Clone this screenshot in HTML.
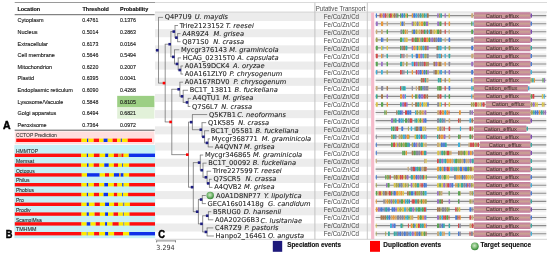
<!DOCTYPE html><html><head><meta charset="utf-8"><style>html,body{margin:0;padding:0;background:#fff;overflow:hidden}svg{display:block}</style></head><body>
<svg width="550" height="254" viewBox="0 0 550 254">
<line x1="14.70" y1="2.50" x2="155.00" y2="2.50" stroke="#9a9a9a" stroke-width="1.2"/>
<text x="17.40" y="10.50" font-family="'Liberation Sans', Arial, sans-serif" font-size="6.1" font-weight="bold" fill="#111" textLength="22.80" lengthAdjust="spacingAndGlyphs" stroke="#111" stroke-width="0.15">Location</text>
<text x="82.50" y="10.50" font-family="'Liberation Sans', Arial, sans-serif" font-size="6.1" font-weight="bold" fill="#111" textLength="26.30" lengthAdjust="spacingAndGlyphs" stroke="#111" stroke-width="0.15">Threshold</text>
<text x="120.00" y="10.50" font-family="'Liberation Sans', Arial, sans-serif" font-size="6.1" font-weight="bold" fill="#111" textLength="28.20" lengthAdjust="spacingAndGlyphs" stroke="#111" stroke-width="0.15">Probability</text>
<line x1="14.70" y1="14.70" x2="154.60" y2="14.70" stroke="#555" stroke-width="0.9"/>
<text x="17.60" y="22.30" font-family="'Liberation Sans', Arial, sans-serif" font-size="6.1" fill="#1a1a1a" textLength="25.94" lengthAdjust="spacingAndGlyphs" stroke="#1a1a1a" stroke-width="0.14">Cytoplasm</text>
<text x="82.30" y="22.30" font-family="'Liberation Sans', Arial, sans-serif" font-size="6.1" fill="#1a1a1a" textLength="16.00" lengthAdjust="spacingAndGlyphs" stroke="#1a1a1a" stroke-width="0.14">0.4761</text>
<text x="119.90" y="22.30" font-family="'Liberation Sans', Arial, sans-serif" font-size="6.1" fill="#1a1a1a" textLength="16.00" lengthAdjust="spacingAndGlyphs" stroke="#1a1a1a" stroke-width="0.14">0.1376</text>
<text x="17.60" y="33.90" font-family="'Liberation Sans', Arial, sans-serif" font-size="6.1" fill="#1a1a1a" textLength="19.84" lengthAdjust="spacingAndGlyphs" stroke="#1a1a1a" stroke-width="0.14">Nucleus</text>
<text x="82.30" y="33.90" font-family="'Liberation Sans', Arial, sans-serif" font-size="6.1" fill="#1a1a1a" textLength="16.00" lengthAdjust="spacingAndGlyphs" stroke="#1a1a1a" stroke-width="0.14">0.5014</text>
<text x="119.90" y="33.90" font-family="'Liberation Sans', Arial, sans-serif" font-size="6.1" fill="#1a1a1a" textLength="16.00" lengthAdjust="spacingAndGlyphs" stroke="#1a1a1a" stroke-width="0.14">0.2863</text>
<text x="17.60" y="45.50" font-family="'Liberation Sans', Arial, sans-serif" font-size="6.1" fill="#1a1a1a" textLength="30.20" lengthAdjust="spacingAndGlyphs" stroke="#1a1a1a" stroke-width="0.14">Extracellular</text>
<text x="82.30" y="45.50" font-family="'Liberation Sans', Arial, sans-serif" font-size="6.1" fill="#1a1a1a" textLength="16.00" lengthAdjust="spacingAndGlyphs" stroke="#1a1a1a" stroke-width="0.14">0.6173</text>
<text x="119.90" y="45.50" font-family="'Liberation Sans', Arial, sans-serif" font-size="6.1" fill="#1a1a1a" textLength="16.00" lengthAdjust="spacingAndGlyphs" stroke="#1a1a1a" stroke-width="0.14">0.0164</text>
<text x="17.60" y="57.10" font-family="'Liberation Sans', Arial, sans-serif" font-size="6.1" fill="#1a1a1a" textLength="37.23" lengthAdjust="spacingAndGlyphs" stroke="#1a1a1a" stroke-width="0.14">Cell membrane</text>
<text x="82.30" y="57.10" font-family="'Liberation Sans', Arial, sans-serif" font-size="6.1" fill="#1a1a1a" textLength="16.00" lengthAdjust="spacingAndGlyphs" stroke="#1a1a1a" stroke-width="0.14">0.5646</text>
<text x="119.90" y="57.10" font-family="'Liberation Sans', Arial, sans-serif" font-size="6.1" fill="#1a1a1a" textLength="16.00" lengthAdjust="spacingAndGlyphs" stroke="#1a1a1a" stroke-width="0.14">0.5494</text>
<text x="17.60" y="68.70" font-family="'Liberation Sans', Arial, sans-serif" font-size="6.1" fill="#1a1a1a" textLength="34.48" lengthAdjust="spacingAndGlyphs" stroke="#1a1a1a" stroke-width="0.14">Mitochondrion</text>
<text x="82.30" y="68.70" font-family="'Liberation Sans', Arial, sans-serif" font-size="6.1" fill="#1a1a1a" textLength="16.00" lengthAdjust="spacingAndGlyphs" stroke="#1a1a1a" stroke-width="0.14">0.6220</text>
<text x="119.90" y="68.70" font-family="'Liberation Sans', Arial, sans-serif" font-size="6.1" fill="#1a1a1a" textLength="16.00" lengthAdjust="spacingAndGlyphs" stroke="#1a1a1a" stroke-width="0.14">0.2007</text>
<text x="17.60" y="80.30" font-family="'Liberation Sans', Arial, sans-serif" font-size="6.1" fill="#1a1a1a" textLength="16.48" lengthAdjust="spacingAndGlyphs" stroke="#1a1a1a" stroke-width="0.14">Plastid</text>
<text x="82.30" y="80.30" font-family="'Liberation Sans', Arial, sans-serif" font-size="6.1" fill="#1a1a1a" textLength="16.00" lengthAdjust="spacingAndGlyphs" stroke="#1a1a1a" stroke-width="0.14">0.6395</text>
<text x="119.90" y="80.30" font-family="'Liberation Sans', Arial, sans-serif" font-size="6.1" fill="#1a1a1a" textLength="16.00" lengthAdjust="spacingAndGlyphs" stroke="#1a1a1a" stroke-width="0.14">0.0041</text>
<text x="17.60" y="91.90" font-family="'Liberation Sans', Arial, sans-serif" font-size="6.1" fill="#1a1a1a" textLength="55.22" lengthAdjust="spacingAndGlyphs" stroke="#1a1a1a" stroke-width="0.14">Endoplasmic reticulum</text>
<text x="82.30" y="91.90" font-family="'Liberation Sans', Arial, sans-serif" font-size="6.1" fill="#1a1a1a" textLength="16.00" lengthAdjust="spacingAndGlyphs" stroke="#1a1a1a" stroke-width="0.14">0.6090</text>
<text x="119.90" y="91.90" font-family="'Liberation Sans', Arial, sans-serif" font-size="6.1" fill="#1a1a1a" textLength="16.00" lengthAdjust="spacingAndGlyphs" stroke="#1a1a1a" stroke-width="0.14">0.4268</text>
<rect x="117.20" y="95.85" width="37.20" height="11.50" fill="#9ccf84"/>
<text x="17.60" y="103.50" font-family="'Liberation Sans', Arial, sans-serif" font-size="6.1" fill="#1a1a1a" textLength="45.76" lengthAdjust="spacingAndGlyphs" stroke="#1a1a1a" stroke-width="0.14">Lysosome/Vacuole</text>
<text x="82.30" y="103.50" font-family="'Liberation Sans', Arial, sans-serif" font-size="6.1" fill="#1a1a1a" textLength="16.00" lengthAdjust="spacingAndGlyphs" stroke="#1a1a1a" stroke-width="0.14">0.5848</text>
<text x="119.90" y="103.50" font-family="'Liberation Sans', Arial, sans-serif" font-size="6.1" fill="#1a1a1a" textLength="16.00" lengthAdjust="spacingAndGlyphs" stroke="#1a1a1a" stroke-width="0.14">0.8105</text>
<rect x="117.20" y="107.45" width="37.20" height="11.20" fill="#e2f1d9"/>
<text x="17.60" y="115.10" font-family="'Liberation Sans', Arial, sans-serif" font-size="6.1" fill="#1a1a1a" textLength="38.75" lengthAdjust="spacingAndGlyphs" stroke="#1a1a1a" stroke-width="0.14">Golgi apparatus</text>
<text x="82.30" y="115.10" font-family="'Liberation Sans', Arial, sans-serif" font-size="6.1" fill="#1a1a1a" textLength="16.00" lengthAdjust="spacingAndGlyphs" stroke="#1a1a1a" stroke-width="0.14">0.6494</text>
<text x="119.90" y="115.10" font-family="'Liberation Sans', Arial, sans-serif" font-size="6.1" fill="#1a1a1a" textLength="16.00" lengthAdjust="spacingAndGlyphs" stroke="#1a1a1a" stroke-width="0.14">0.6821</text>
<text x="17.60" y="126.70" font-family="'Liberation Sans', Arial, sans-serif" font-size="6.1" fill="#1a1a1a" textLength="28.98" lengthAdjust="spacingAndGlyphs" stroke="#1a1a1a" stroke-width="0.14">Peroxisome</text>
<text x="82.30" y="126.70" font-family="'Liberation Sans', Arial, sans-serif" font-size="6.1" fill="#1a1a1a" textLength="16.00" lengthAdjust="spacingAndGlyphs" stroke="#1a1a1a" stroke-width="0.14">0.7364</text>
<text x="119.90" y="126.70" font-family="'Liberation Sans', Arial, sans-serif" font-size="6.1" fill="#1a1a1a" textLength="16.00" lengthAdjust="spacingAndGlyphs" stroke="#1a1a1a" stroke-width="0.14">0.0972</text>
<line x1="14.70" y1="130.20" x2="154.60" y2="130.20" stroke="#444" stroke-width="0.9"/>
<text x="3.10" y="128.50" font-family="'Liberation Sans', Arial, sans-serif" font-size="10.4" font-weight="bold" fill="#000" textLength="7.60" lengthAdjust="spacingAndGlyphs" stroke="#000" stroke-width="0.45">A</text>
<rect x="14.80" y="131.40" width="139.60" height="12.90" fill="#ffdede"/>
<rect x="14.40" y="145.00" width="140.80" height="93.20" fill="#c6f1f7"/>
<text x="15.90" y="137.40" font-family="'Liberation Sans', Arial, sans-serif" font-size="5.5" fill="#3a3a3a" textLength="40.90" lengthAdjust="spacingAndGlyphs" stroke="#3a3a3a" stroke-width="0.1">CCTOP Prediction</text>
<rect x="16.20" y="138.60" width="65.30" height="3.40" fill="#ff1010"/>
<rect x="81.50" y="138.60" width="5.50" height="3.40" fill="#ffe800"/>
<rect x="87.00" y="138.60" width="1.40" height="3.40" fill="#1030e8"/>
<rect x="88.40" y="138.60" width="5.30" height="3.40" fill="#ffe800"/>
<rect x="93.70" y="138.60" width="5.50" height="3.40" fill="#ff1010"/>
<rect x="99.20" y="138.60" width="4.40" height="3.40" fill="#ffe800"/>
<rect x="103.60" y="138.60" width="4.10" height="3.40" fill="#1030e8"/>
<rect x="107.70" y="138.60" width="4.90" height="3.40" fill="#ffe800"/>
<rect x="112.60" y="138.60" width="4.50" height="3.40" fill="#ff1010"/>
<rect x="117.10" y="138.60" width="3.70" height="3.40" fill="#ffe800"/>
<rect x="120.80" y="138.60" width="1.10" height="3.40" fill="#1030e8"/>
<rect x="121.90" y="138.60" width="5.80" height="3.40" fill="#ffe800"/>
<rect x="127.70" y="138.60" width="24.30" height="3.40" fill="#ff1010"/>
<text x="15.90" y="152.90" font-family="'Liberation Sans', Arial, sans-serif" font-size="5.6" fill="#2a2a2a" textLength="22.20" lengthAdjust="spacingAndGlyphs" stroke="#2a2a2a" stroke-width="0.1">HMMTOP</text>
<rect x="14.80" y="153.60" width="66.40" height="3.40" fill="#ff1010"/>
<rect x="81.20" y="153.60" width="5.60" height="3.40" fill="#ffe800"/>
<rect x="86.80" y="153.60" width="1.30" height="3.40" fill="#1030e8"/>
<rect x="88.10" y="153.60" width="5.80" height="3.40" fill="#ffe800"/>
<rect x="93.90" y="153.60" width="5.80" height="3.40" fill="#ff1010"/>
<rect x="99.70" y="153.60" width="5.50" height="3.40" fill="#ffe800"/>
<rect x="105.20" y="153.60" width="3.20" height="3.40" fill="#1030e8"/>
<rect x="108.40" y="153.60" width="5.50" height="3.40" fill="#ffe800"/>
<rect x="113.90" y="153.60" width="4.20" height="3.40" fill="#ff1010"/>
<rect x="118.10" y="153.60" width="3.40" height="3.40" fill="#f0a020"/>
<rect x="121.50" y="153.60" width="2.10" height="3.40" fill="#ff1010"/>
<rect x="123.60" y="153.60" width="5.20" height="3.40" fill="#ffe800"/>
<rect x="128.80" y="153.60" width="26.20" height="3.40" fill="#1030e8"/>
<text x="15.90" y="162.70" font-family="'Liberation Sans', Arial, sans-serif" font-size="5.6" fill="#2a2a2a" textLength="18.20" lengthAdjust="spacingAndGlyphs" stroke="#2a2a2a" stroke-width="0.1">Memsat</text>
<rect x="14.80" y="163.40" width="66.40" height="3.40" fill="#ff1010"/>
<rect x="81.20" y="163.40" width="5.80" height="3.40" fill="#ffe800"/>
<rect x="87.00" y="163.40" width="1.70" height="3.40" fill="#1030e8"/>
<rect x="88.70" y="163.40" width="5.00" height="3.40" fill="#ffe800"/>
<rect x="93.70" y="163.40" width="5.70" height="3.40" fill="#ff1010"/>
<rect x="99.40" y="163.40" width="4.90" height="3.40" fill="#ffe800"/>
<rect x="104.30" y="163.40" width="4.50" height="3.40" fill="#1030e8"/>
<rect x="108.80" y="163.40" width="5.10" height="3.40" fill="#ffe800"/>
<rect x="113.90" y="163.40" width="4.10" height="3.40" fill="#ff1010"/>
<rect x="118.00" y="163.40" width="4.20" height="3.40" fill="#ffe800"/>
<rect x="122.20" y="163.40" width="1.00" height="3.40" fill="#1030e8"/>
<rect x="123.20" y="163.40" width="5.90" height="3.40" fill="#ffe800"/>
<rect x="129.10" y="163.40" width="25.90" height="3.40" fill="#ff1010"/>
<text x="15.90" y="172.50" font-family="'Liberation Sans', Arial, sans-serif" font-size="5.6" fill="#2a2a2a" textLength="18.80" lengthAdjust="spacingAndGlyphs" stroke="#2a2a2a" stroke-width="0.1">Octopus</text>
<rect x="14.80" y="173.20" width="67.00" height="3.40" fill="#ff1010"/>
<rect x="81.80" y="173.20" width="5.20" height="3.40" fill="#ffe800"/>
<rect x="87.00" y="173.20" width="12.70" height="3.40" fill="#1030e8"/>
<rect x="99.70" y="173.20" width="5.30" height="3.40" fill="#ffe800"/>
<rect x="105.00" y="173.20" width="4.10" height="3.40" fill="#ff1010"/>
<rect x="109.10" y="173.20" width="4.80" height="3.40" fill="#ffe800"/>
<rect x="113.90" y="173.20" width="5.10" height="3.40" fill="#1030e8"/>
<rect x="119.00" y="173.20" width="1.80" height="3.40" fill="#f0a020"/>
<rect x="120.80" y="173.20" width="2.80" height="3.40" fill="#1030e8"/>
<rect x="123.60" y="173.20" width="5.50" height="3.40" fill="#ffe800"/>
<rect x="129.10" y="173.20" width="25.90" height="3.40" fill="#ff1010"/>
<text x="15.90" y="182.30" font-family="'Liberation Sans', Arial, sans-serif" font-size="5.6" fill="#2a2a2a" textLength="13.70" lengthAdjust="spacingAndGlyphs" stroke="#2a2a2a" stroke-width="0.1">Philus</text>
<rect x="14.80" y="183.00" width="66.70" height="3.40" fill="#ff1010"/>
<rect x="81.50" y="183.00" width="5.30" height="3.40" fill="#ffe800"/>
<rect x="86.80" y="183.00" width="1.60" height="3.40" fill="#1030e8"/>
<rect x="88.40" y="183.00" width="5.50" height="3.40" fill="#ffe800"/>
<rect x="93.90" y="183.00" width="5.30" height="3.40" fill="#ff1010"/>
<rect x="99.20" y="183.00" width="5.10" height="3.40" fill="#ffe800"/>
<rect x="104.30" y="183.00" width="3.70" height="3.40" fill="#1030e8"/>
<rect x="108.00" y="183.00" width="5.90" height="3.40" fill="#ffe800"/>
<rect x="113.90" y="183.00" width="3.50" height="3.40" fill="#ff1010"/>
<rect x="117.40" y="183.00" width="4.80" height="3.40" fill="#ffe800"/>
<rect x="122.20" y="183.00" width="1.40" height="3.40" fill="#1030e8"/>
<rect x="123.60" y="183.00" width="5.50" height="3.40" fill="#ffe800"/>
<rect x="129.10" y="183.00" width="25.90" height="3.40" fill="#ff1010"/>
<text x="15.90" y="192.10" font-family="'Liberation Sans', Arial, sans-serif" font-size="5.6" fill="#2a2a2a" textLength="18.10" lengthAdjust="spacingAndGlyphs" stroke="#2a2a2a" stroke-width="0.1">Phobius</text>
<rect x="14.80" y="192.80" width="66.70" height="3.40" fill="#ff1010"/>
<rect x="81.50" y="192.80" width="5.30" height="3.40" fill="#ffe800"/>
<rect x="86.80" y="192.80" width="1.40" height="3.40" fill="#1030e8"/>
<rect x="88.20" y="192.80" width="5.70" height="3.40" fill="#ffe800"/>
<rect x="93.90" y="192.80" width="5.30" height="3.40" fill="#ff1010"/>
<rect x="99.20" y="192.80" width="4.40" height="3.40" fill="#ffe800"/>
<rect x="103.60" y="192.80" width="4.40" height="3.40" fill="#1030e8"/>
<rect x="108.00" y="192.80" width="5.90" height="3.40" fill="#ffe800"/>
<rect x="113.90" y="192.80" width="3.50" height="3.40" fill="#ff1010"/>
<rect x="117.40" y="192.80" width="4.80" height="3.40" fill="#ffe800"/>
<rect x="122.20" y="192.80" width="1.00" height="3.40" fill="#1030e8"/>
<rect x="123.20" y="192.80" width="4.90" height="3.40" fill="#ffe800"/>
<rect x="128.10" y="192.80" width="26.90" height="3.40" fill="#ff1010"/>
<text x="15.90" y="201.90" font-family="'Liberation Sans', Arial, sans-serif" font-size="5.6" fill="#2a2a2a" textLength="7.90" lengthAdjust="spacingAndGlyphs" stroke="#2a2a2a" stroke-width="0.1">Pro</text>
<rect x="14.80" y="202.60" width="66.70" height="3.40" fill="#ff1010"/>
<rect x="81.50" y="202.60" width="5.20" height="3.40" fill="#ffe800"/>
<rect x="86.70" y="202.60" width="2.20" height="3.40" fill="#1030e8"/>
<rect x="88.90" y="202.60" width="5.70" height="3.40" fill="#ffe800"/>
<rect x="94.60" y="202.60" width="5.30" height="3.40" fill="#ff1010"/>
<rect x="99.90" y="202.60" width="5.20" height="3.40" fill="#ffe800"/>
<rect x="105.10" y="202.60" width="4.00" height="3.40" fill="#1030e8"/>
<rect x="109.10" y="202.60" width="5.00" height="3.40" fill="#ffe800"/>
<rect x="114.10" y="202.60" width="4.10" height="3.40" fill="#ff1010"/>
<rect x="118.20" y="202.60" width="4.70" height="3.40" fill="#ffe800"/>
<rect x="122.90" y="202.60" width="1.60" height="3.40" fill="#7070a0"/>
<rect x="124.50" y="202.60" width="5.40" height="3.40" fill="#ffe800"/>
<rect x="129.90" y="202.60" width="25.10" height="3.40" fill="#ff1010"/>
<text x="15.90" y="211.70" font-family="'Liberation Sans', Arial, sans-serif" font-size="5.6" fill="#2a2a2a" textLength="14.70" lengthAdjust="spacingAndGlyphs" stroke="#2a2a2a" stroke-width="0.1">Prodiv</text>
<rect x="14.80" y="212.40" width="66.70" height="3.40" fill="#ff1010"/>
<rect x="81.50" y="212.40" width="5.20" height="3.40" fill="#ffe800"/>
<rect x="86.70" y="212.40" width="2.20" height="3.40" fill="#1030e8"/>
<rect x="88.90" y="212.40" width="5.70" height="3.40" fill="#ffe800"/>
<rect x="94.60" y="212.40" width="5.30" height="3.40" fill="#ff1010"/>
<rect x="99.90" y="212.40" width="5.20" height="3.40" fill="#ffe800"/>
<rect x="105.10" y="212.40" width="2.90" height="3.40" fill="#1030e8"/>
<rect x="108.00" y="212.40" width="5.50" height="3.40" fill="#ffe800"/>
<rect x="113.50" y="212.40" width="4.70" height="3.40" fill="#ff1010"/>
<rect x="118.20" y="212.40" width="4.70" height="3.40" fill="#ffe800"/>
<rect x="122.90" y="212.40" width="1.10" height="3.40" fill="#7070a0"/>
<rect x="124.00" y="212.40" width="5.50" height="3.40" fill="#ffe800"/>
<rect x="129.50" y="212.40" width="25.50" height="3.40" fill="#ff1010"/>
<text x="15.90" y="221.50" font-family="'Liberation Sans', Arial, sans-serif" font-size="5.6" fill="#2a2a2a" textLength="26.00" lengthAdjust="spacingAndGlyphs" stroke="#2a2a2a" stroke-width="0.1">ScampiMsa</text>
<rect x="14.80" y="222.20" width="66.70" height="3.40" fill="#ff1010"/>
<rect x="81.50" y="222.20" width="5.20" height="3.40" fill="#ffe800"/>
<rect x="86.70" y="222.20" width="3.80" height="3.40" fill="#1030e8"/>
<rect x="90.50" y="222.20" width="5.20" height="3.40" fill="#ffe800"/>
<rect x="95.70" y="222.20" width="4.20" height="3.40" fill="#ff1010"/>
<rect x="99.90" y="222.20" width="5.20" height="3.40" fill="#ffe800"/>
<rect x="105.10" y="222.20" width="2.10" height="3.40" fill="#1030e8"/>
<rect x="107.20" y="222.20" width="5.30" height="3.40" fill="#ffe800"/>
<rect x="112.50" y="222.20" width="6.30" height="3.40" fill="#ff1010"/>
<rect x="118.80" y="222.20" width="4.50" height="3.40" fill="#ffe800"/>
<rect x="123.30" y="222.20" width="1.10" height="3.40" fill="#7a7a8a"/>
<rect x="124.40" y="222.20" width="5.10" height="3.40" fill="#ffe800"/>
<rect x="129.50" y="222.20" width="25.50" height="3.40" fill="#ff1010"/>
<text x="15.90" y="231.30" font-family="'Liberation Sans', Arial, sans-serif" font-size="5.6" fill="#2a2a2a" textLength="20.50" lengthAdjust="spacingAndGlyphs" stroke="#2a2a2a" stroke-width="0.1">TMHMM</text>
<rect x="14.80" y="232.00" width="66.70" height="3.40" fill="#ff1010"/>
<rect x="81.50" y="232.00" width="5.20" height="3.40" fill="#ffe800"/>
<rect x="86.70" y="232.00" width="1.10" height="3.40" fill="#8080a0"/>
<rect x="87.80" y="232.00" width="6.30" height="3.40" fill="#ffe800"/>
<rect x="94.10" y="232.00" width="5.20" height="3.40" fill="#ff1010"/>
<rect x="99.30" y="232.00" width="5.80" height="3.40" fill="#ffe800"/>
<rect x="105.10" y="232.00" width="3.20" height="3.40" fill="#1030e8"/>
<rect x="108.30" y="232.00" width="5.80" height="3.40" fill="#ffe800"/>
<rect x="114.10" y="232.00" width="8.90" height="3.40" fill="#ff1010"/>
<rect x="123.00" y="232.00" width="6.20" height="3.40" fill="#ffe800"/>
<rect x="129.20" y="232.00" width="25.80" height="3.40" fill="#1030e8"/>
<text x="5.80" y="237.90" font-family="'Liberation Sans', Arial, sans-serif" font-size="10.4" font-weight="bold" fill="#000" textLength="6.70" lengthAdjust="spacingAndGlyphs" stroke="#000" stroke-width="0.45">B</text>
<rect x="155.00" y="12.30" width="216.00" height="8.73" fill="#ececec"/>
<rect x="155.00" y="29.16" width="216.00" height="8.06" fill="#ececec"/>
<rect x="155.00" y="45.35" width="216.00" height="8.06" fill="#ececec"/>
<rect x="155.00" y="61.55" width="216.00" height="8.06" fill="#ececec"/>
<rect x="155.00" y="77.74" width="216.00" height="8.06" fill="#ececec"/>
<rect x="155.00" y="93.93" width="216.00" height="8.06" fill="#ececec"/>
<rect x="155.00" y="110.12" width="216.00" height="8.06" fill="#ececec"/>
<rect x="155.00" y="126.31" width="216.00" height="8.06" fill="#ececec"/>
<rect x="155.00" y="142.51" width="216.00" height="8.06" fill="#ececec"/>
<rect x="155.00" y="158.70" width="216.00" height="8.06" fill="#ececec"/>
<rect x="155.00" y="174.89" width="216.00" height="8.06" fill="#ececec"/>
<rect x="155.00" y="191.08" width="216.00" height="8.06" fill="#ececec"/>
<rect x="155.00" y="207.27" width="216.00" height="8.06" fill="#ececec"/>
<rect x="155.00" y="223.47" width="216.00" height="8.06" fill="#ececec"/>
<line x1="155.00" y1="2.50" x2="547.00" y2="2.50" stroke="#d6d6d6" stroke-width="0.9"/>
<line x1="155.00" y1="12.10" x2="547.00" y2="12.10" stroke="#c8c8c8" stroke-width="0.8"/>
<line x1="155.00" y1="239.30" x2="547.00" y2="239.30" stroke="#c8c8c8" stroke-width="0.8"/>
<line x1="314.90" y1="2.50" x2="314.90" y2="239.30" stroke="#c2c2c2" stroke-width="1.0"/>
<line x1="367.30" y1="2.50" x2="367.30" y2="239.30" stroke="#c8c8c8" stroke-width="1.0"/>
<text x="315.70" y="10.80" font-family="'Liberation Sans', Arial, sans-serif" font-size="6.7" fill="#4a4a4a" textLength="49.70" lengthAdjust="spacingAndGlyphs">Putative Transport</text>
<text x="341.40" y="19.25" font-family="'Liberation Sans', Arial, sans-serif" font-size="6.6" text-anchor="middle" fill="#444" textLength="35.20" lengthAdjust="spacingAndGlyphs">Fe/Co/Zn/Cd</text>
<text x="341.40" y="27.27" font-family="'Liberation Sans', Arial, sans-serif" font-size="6.6" text-anchor="middle" fill="#444" textLength="35.20" lengthAdjust="spacingAndGlyphs">Fe/Co/Zn/Cd</text>
<text x="341.40" y="35.29" font-family="'Liberation Sans', Arial, sans-serif" font-size="6.6" text-anchor="middle" fill="#444" textLength="35.20" lengthAdjust="spacingAndGlyphs">Fe/Co/Zn/Cd</text>
<text x="341.40" y="43.31" font-family="'Liberation Sans', Arial, sans-serif" font-size="6.6" text-anchor="middle" fill="#444" textLength="35.20" lengthAdjust="spacingAndGlyphs">Fe/Co/Zn/Cd</text>
<text x="341.40" y="51.33" font-family="'Liberation Sans', Arial, sans-serif" font-size="6.6" text-anchor="middle" fill="#444" textLength="35.20" lengthAdjust="spacingAndGlyphs">Fe/Co/Zn/Cd</text>
<text x="341.40" y="59.35" font-family="'Liberation Sans', Arial, sans-serif" font-size="6.6" text-anchor="middle" fill="#444" textLength="35.20" lengthAdjust="spacingAndGlyphs">Fe/Co/Zn/Cd</text>
<text x="341.40" y="67.37" font-family="'Liberation Sans', Arial, sans-serif" font-size="6.6" text-anchor="middle" fill="#444" textLength="35.20" lengthAdjust="spacingAndGlyphs">Fe/Co/Zn/Cd</text>
<text x="341.40" y="75.39" font-family="'Liberation Sans', Arial, sans-serif" font-size="6.6" text-anchor="middle" fill="#444" textLength="35.20" lengthAdjust="spacingAndGlyphs">Fe/Co/Zn/Cd</text>
<text x="341.40" y="83.41" font-family="'Liberation Sans', Arial, sans-serif" font-size="6.6" text-anchor="middle" fill="#444" textLength="35.20" lengthAdjust="spacingAndGlyphs">Fe/Co/Zn/Cd</text>
<text x="341.40" y="91.43" font-family="'Liberation Sans', Arial, sans-serif" font-size="6.6" text-anchor="middle" fill="#444" textLength="35.20" lengthAdjust="spacingAndGlyphs">Fe/Co/Zn/Cd</text>
<text x="341.40" y="99.45" font-family="'Liberation Sans', Arial, sans-serif" font-size="6.6" text-anchor="middle" fill="#444" textLength="35.20" lengthAdjust="spacingAndGlyphs">Fe/Co/Zn/Cd</text>
<text x="341.40" y="107.47" font-family="'Liberation Sans', Arial, sans-serif" font-size="6.6" text-anchor="middle" fill="#444" textLength="35.20" lengthAdjust="spacingAndGlyphs">Fe/Co/Zn/Cd</text>
<text x="341.40" y="115.49" font-family="'Liberation Sans', Arial, sans-serif" font-size="6.6" text-anchor="middle" fill="#444" textLength="35.20" lengthAdjust="spacingAndGlyphs">Fe/Co/Zn/Cd</text>
<text x="341.40" y="123.51" font-family="'Liberation Sans', Arial, sans-serif" font-size="6.6" text-anchor="middle" fill="#444" textLength="35.20" lengthAdjust="spacingAndGlyphs">Fe/Co/Zn/Cd</text>
<text x="341.40" y="131.53" font-family="'Liberation Sans', Arial, sans-serif" font-size="6.6" text-anchor="middle" fill="#444" textLength="35.20" lengthAdjust="spacingAndGlyphs">Fe/Co/Zn/Cd</text>
<text x="341.40" y="139.55" font-family="'Liberation Sans', Arial, sans-serif" font-size="6.6" text-anchor="middle" fill="#444" textLength="35.20" lengthAdjust="spacingAndGlyphs">Fe/Co/Zn/Cd</text>
<text x="341.40" y="147.57" font-family="'Liberation Sans', Arial, sans-serif" font-size="6.6" text-anchor="middle" fill="#444" textLength="35.20" lengthAdjust="spacingAndGlyphs">Fe/Co/Zn/Cd</text>
<text x="341.40" y="155.59" font-family="'Liberation Sans', Arial, sans-serif" font-size="6.6" text-anchor="middle" fill="#444" textLength="35.20" lengthAdjust="spacingAndGlyphs">Fe/Co/Zn/Cd</text>
<text x="341.40" y="163.61" font-family="'Liberation Sans', Arial, sans-serif" font-size="6.6" text-anchor="middle" fill="#444" textLength="35.20" lengthAdjust="spacingAndGlyphs">Fe/Co/Zn/Cd</text>
<text x="341.40" y="171.63" font-family="'Liberation Sans', Arial, sans-serif" font-size="6.6" text-anchor="middle" fill="#444" textLength="35.20" lengthAdjust="spacingAndGlyphs">Fe/Co/Zn/Cd</text>
<text x="341.40" y="179.65" font-family="'Liberation Sans', Arial, sans-serif" font-size="6.6" text-anchor="middle" fill="#444" textLength="35.20" lengthAdjust="spacingAndGlyphs">Fe/Co/Zn/Cd</text>
<text x="341.40" y="187.67" font-family="'Liberation Sans', Arial, sans-serif" font-size="6.6" text-anchor="middle" fill="#444" textLength="35.20" lengthAdjust="spacingAndGlyphs">Fe/Co/Zn/Cd</text>
<text x="341.40" y="195.69" font-family="'Liberation Sans', Arial, sans-serif" font-size="6.6" text-anchor="middle" fill="#444" textLength="35.20" lengthAdjust="spacingAndGlyphs">Fe/Co/Zn/Cd</text>
<text x="341.40" y="203.71" font-family="'Liberation Sans', Arial, sans-serif" font-size="6.6" text-anchor="middle" fill="#444" textLength="35.20" lengthAdjust="spacingAndGlyphs">Fe/Co/Zn/Cd</text>
<text x="341.40" y="211.73" font-family="'Liberation Sans', Arial, sans-serif" font-size="6.6" text-anchor="middle" fill="#444" textLength="35.20" lengthAdjust="spacingAndGlyphs">Fe/Co/Zn/Cd</text>
<text x="341.40" y="219.75" font-family="'Liberation Sans', Arial, sans-serif" font-size="6.6" text-anchor="middle" fill="#444" textLength="35.20" lengthAdjust="spacingAndGlyphs">Fe/Co/Zn/Cd</text>
<text x="341.40" y="227.77" font-family="'Liberation Sans', Arial, sans-serif" font-size="6.6" text-anchor="middle" fill="#444" textLength="35.20" lengthAdjust="spacingAndGlyphs">Fe/Co/Zn/Cd</text>
<text x="341.40" y="235.79" font-family="'Liberation Sans', Arial, sans-serif" font-size="6.6" text-anchor="middle" fill="#444" textLength="35.20" lengthAdjust="spacingAndGlyphs">Fe/Co/Zn/Cd</text>
<rect x="371.10" y="12.50" width="3.20" height="226.60" fill="#f5bccb"/>
<line x1="158.50" y1="17.40" x2="158.50" y2="83.09" stroke="#6e6e6e" stroke-width="0.75"/>
<line x1="158.15" y1="17.40" x2="163.10" y2="17.40" stroke="#6e6e6e" stroke-width="0.75"/>
<line x1="158.15" y1="83.09" x2="164.20" y2="83.09" stroke="#6e6e6e" stroke-width="0.75"/>
<line x1="165.20" y1="44.22" x2="165.20" y2="121.95" stroke="#6e6e6e" stroke-width="0.75"/>
<line x1="164.85" y1="44.22" x2="169.90" y2="44.22" stroke="#6e6e6e" stroke-width="0.75"/>
<line x1="164.85" y1="121.95" x2="170.80" y2="121.95" stroke="#6e6e6e" stroke-width="0.75"/>
<line x1="170.90" y1="31.57" x2="170.90" y2="56.87" stroke="#6e6e6e" stroke-width="0.75"/>
<line x1="170.55" y1="31.57" x2="174.00" y2="31.57" stroke="#6e6e6e" stroke-width="0.75"/>
<line x1="170.55" y1="56.87" x2="173.50" y2="56.87" stroke="#6e6e6e" stroke-width="0.75"/>
<line x1="175.00" y1="25.50" x2="175.00" y2="37.64" stroke="#6e6e6e" stroke-width="0.75"/>
<line x1="174.65" y1="25.50" x2="178.00" y2="25.50" stroke="#6e6e6e" stroke-width="0.75"/>
<line x1="174.65" y1="37.64" x2="176.60" y2="37.64" stroke="#6e6e6e" stroke-width="0.75"/>
<line x1="177.60" y1="33.59" x2="177.60" y2="41.69" stroke="#6e6e6e" stroke-width="0.75"/>
<line x1="177.25" y1="33.59" x2="180.50" y2="33.59" stroke="#6e6e6e" stroke-width="0.75"/>
<line x1="177.25" y1="41.69" x2="180.60" y2="41.69" stroke="#6e6e6e" stroke-width="0.75"/>
<line x1="174.50" y1="49.78" x2="174.50" y2="63.95" stroke="#6e6e6e" stroke-width="0.75"/>
<line x1="174.15" y1="49.78" x2="179.30" y2="49.78" stroke="#6e6e6e" stroke-width="0.75"/>
<line x1="174.15" y1="63.95" x2="177.20" y2="63.95" stroke="#6e6e6e" stroke-width="0.75"/>
<line x1="178.20" y1="57.88" x2="178.20" y2="70.02" stroke="#6e6e6e" stroke-width="0.75"/>
<line x1="177.85" y1="57.88" x2="181.00" y2="57.88" stroke="#6e6e6e" stroke-width="0.75"/>
<line x1="177.85" y1="70.02" x2="180.00" y2="70.02" stroke="#6e6e6e" stroke-width="0.75"/>
<line x1="181.00" y1="65.98" x2="181.00" y2="74.07" stroke="#6e6e6e" stroke-width="0.75"/>
<line x1="180.65" y1="65.98" x2="183.10" y2="65.98" stroke="#6e6e6e" stroke-width="0.75"/>
<line x1="180.65" y1="74.07" x2="183.10" y2="74.07" stroke="#6e6e6e" stroke-width="0.75"/>
<line x1="171.80" y1="89.25" x2="171.80" y2="154.65" stroke="#6e6e6e" stroke-width="0.75"/>
<line x1="171.45" y1="89.25" x2="178.90" y2="89.25" stroke="#6e6e6e" stroke-width="0.75"/>
<line x1="171.45" y1="154.65" x2="187.50" y2="154.65" stroke="#6e6e6e" stroke-width="0.75"/>
<line x1="179.90" y1="82.17" x2="179.90" y2="96.34" stroke="#6e6e6e" stroke-width="0.75"/>
<line x1="179.55" y1="82.17" x2="183.10" y2="82.17" stroke="#6e6e6e" stroke-width="0.75"/>
<line x1="179.55" y1="96.34" x2="182.20" y2="96.34" stroke="#6e6e6e" stroke-width="0.75"/>
<line x1="183.20" y1="90.26" x2="183.20" y2="102.41" stroke="#6e6e6e" stroke-width="0.75"/>
<line x1="182.85" y1="90.26" x2="188.00" y2="90.26" stroke="#6e6e6e" stroke-width="0.75"/>
<line x1="182.85" y1="102.41" x2="187.20" y2="102.41" stroke="#6e6e6e" stroke-width="0.75"/>
<line x1="188.20" y1="98.36" x2="188.20" y2="106.46" stroke="#6e6e6e" stroke-width="0.75"/>
<line x1="187.85" y1="98.36" x2="190.90" y2="98.36" stroke="#6e6e6e" stroke-width="0.75"/>
<line x1="187.85" y1="106.46" x2="190.30" y2="106.46" stroke="#6e6e6e" stroke-width="0.75"/>
<line x1="188.50" y1="122.14" x2="188.50" y2="187.16" stroke="#6e6e6e" stroke-width="0.75"/>
<line x1="188.15" y1="122.14" x2="191.40" y2="122.14" stroke="#6e6e6e" stroke-width="0.75"/>
<line x1="188.15" y1="187.16" x2="192.30" y2="187.16" stroke="#6e6e6e" stroke-width="0.75"/>
<line x1="192.40" y1="114.55" x2="192.40" y2="129.73" stroke="#6e6e6e" stroke-width="0.75"/>
<line x1="192.05" y1="114.55" x2="207.20" y2="114.55" stroke="#6e6e6e" stroke-width="0.75"/>
<line x1="192.05" y1="129.73" x2="201.00" y2="129.73" stroke="#6e6e6e" stroke-width="0.75"/>
<line x1="202.00" y1="122.65" x2="202.00" y2="136.82" stroke="#6e6e6e" stroke-width="0.75"/>
<line x1="201.65" y1="122.65" x2="206.20" y2="122.65" stroke="#6e6e6e" stroke-width="0.75"/>
<line x1="201.65" y1="136.82" x2="203.60" y2="136.82" stroke="#6e6e6e" stroke-width="0.75"/>
<line x1="204.60" y1="130.74" x2="204.60" y2="142.89" stroke="#6e6e6e" stroke-width="0.75"/>
<line x1="204.25" y1="130.74" x2="209.10" y2="130.74" stroke="#6e6e6e" stroke-width="0.75"/>
<line x1="204.25" y1="142.89" x2="207.20" y2="142.89" stroke="#6e6e6e" stroke-width="0.75"/>
<line x1="208.20" y1="138.84" x2="208.20" y2="146.94" stroke="#6e6e6e" stroke-width="0.75"/>
<line x1="207.85" y1="138.84" x2="210.10" y2="138.84" stroke="#6e6e6e" stroke-width="0.75"/>
<line x1="207.85" y1="146.94" x2="213.10" y2="146.94" stroke="#6e6e6e" stroke-width="0.75"/>
<line x1="193.30" y1="162.62" x2="193.30" y2="211.70" stroke="#6e6e6e" stroke-width="0.75"/>
<line x1="192.95" y1="162.62" x2="199.30" y2="162.62" stroke="#6e6e6e" stroke-width="0.75"/>
<line x1="192.95" y1="211.70" x2="197.40" y2="211.70" stroke="#6e6e6e" stroke-width="0.75"/>
<line x1="200.30" y1="155.03" x2="200.30" y2="170.21" stroke="#6e6e6e" stroke-width="0.75"/>
<line x1="199.95" y1="155.03" x2="203.20" y2="155.03" stroke="#6e6e6e" stroke-width="0.75"/>
<line x1="199.95" y1="170.21" x2="202.00" y2="170.21" stroke="#6e6e6e" stroke-width="0.75"/>
<line x1="203.00" y1="163.13" x2="203.00" y2="177.30" stroke="#6e6e6e" stroke-width="0.75"/>
<line x1="202.65" y1="163.13" x2="206.60" y2="163.13" stroke="#6e6e6e" stroke-width="0.75"/>
<line x1="202.65" y1="177.30" x2="206.10" y2="177.30" stroke="#6e6e6e" stroke-width="0.75"/>
<line x1="207.10" y1="171.22" x2="207.10" y2="183.37" stroke="#6e6e6e" stroke-width="0.75"/>
<line x1="206.75" y1="171.22" x2="211.10" y2="171.22" stroke="#6e6e6e" stroke-width="0.75"/>
<line x1="206.75" y1="183.37" x2="208.40" y2="183.37" stroke="#6e6e6e" stroke-width="0.75"/>
<line x1="209.40" y1="179.32" x2="209.40" y2="187.42" stroke="#6e6e6e" stroke-width="0.75"/>
<line x1="209.05" y1="179.32" x2="211.70" y2="179.32" stroke="#6e6e6e" stroke-width="0.75"/>
<line x1="209.05" y1="187.42" x2="212.50" y2="187.42" stroke="#6e6e6e" stroke-width="0.75"/>
<line x1="198.40" y1="199.56" x2="198.40" y2="223.85" stroke="#6e6e6e" stroke-width="0.75"/>
<line x1="198.05" y1="199.56" x2="201.30" y2="199.56" stroke="#6e6e6e" stroke-width="0.75"/>
<line x1="198.05" y1="223.85" x2="201.70" y2="223.85" stroke="#6e6e6e" stroke-width="0.75"/>
<line x1="202.30" y1="195.51" x2="202.30" y2="203.61" stroke="#6e6e6e" stroke-width="0.75"/>
<line x1="201.95" y1="195.51" x2="205.80" y2="195.51" stroke="#6e6e6e" stroke-width="0.75"/>
<line x1="201.95" y1="203.61" x2="205.90" y2="203.61" stroke="#6e6e6e" stroke-width="0.75"/>
<line x1="202.70" y1="215.75" x2="202.70" y2="231.94" stroke="#6e6e6e" stroke-width="0.75"/>
<line x1="202.35" y1="215.75" x2="207.40" y2="215.75" stroke="#6e6e6e" stroke-width="0.75"/>
<line x1="202.35" y1="231.94" x2="206.10" y2="231.94" stroke="#6e6e6e" stroke-width="0.75"/>
<line x1="208.40" y1="211.70" x2="208.40" y2="219.80" stroke="#6e6e6e" stroke-width="0.75"/>
<line x1="208.05" y1="211.70" x2="211.30" y2="211.70" stroke="#6e6e6e" stroke-width="0.75"/>
<line x1="208.05" y1="219.80" x2="213.30" y2="219.80" stroke="#6e6e6e" stroke-width="0.75"/>
<line x1="207.10" y1="227.90" x2="207.10" y2="235.99" stroke="#6e6e6e" stroke-width="0.75"/>
<line x1="206.75" y1="227.90" x2="213.30" y2="227.90" stroke="#6e6e6e" stroke-width="0.75"/>
<line x1="206.75" y1="235.99" x2="213.90" y2="235.99" stroke="#6e6e6e" stroke-width="0.75"/>
<line x1="155.50" y1="50.24" x2="158.50" y2="50.24" stroke="#6e6e6e" stroke-width="0.75"/>
<rect x="156.00" y="48.94" width="2.60" height="2.60" fill="#1c1c80"/>
<rect x="162.70" y="81.79" width="2.60" height="2.60" fill="#ff0000"/>
<rect x="168.40" y="42.92" width="2.60" height="2.60" fill="#1c1c80"/>
<rect x="172.50" y="30.27" width="2.60" height="2.60" fill="#1c1c80"/>
<rect x="175.10" y="36.34" width="2.60" height="2.60" fill="#1c1c80"/>
<rect x="172.00" y="55.57" width="2.60" height="2.60" fill="#1c1c80"/>
<rect x="175.70" y="62.65" width="2.60" height="2.60" fill="#1c1c80"/>
<rect x="178.50" y="68.72" width="2.60" height="2.60" fill="#1c1c80"/>
<rect x="169.30" y="120.65" width="2.60" height="2.60" fill="#ff0000"/>
<rect x="177.40" y="87.95" width="2.60" height="2.60" fill="#1c1c80"/>
<rect x="180.70" y="95.04" width="2.60" height="2.60" fill="#1c1c80"/>
<rect x="185.70" y="101.11" width="2.60" height="2.60" fill="#1c1c80"/>
<rect x="186.00" y="153.35" width="2.60" height="2.60" fill="#ff0000"/>
<rect x="189.90" y="120.84" width="2.60" height="2.60" fill="#1c1c80"/>
<rect x="199.50" y="128.43" width="2.60" height="2.60" fill="#1c1c80"/>
<rect x="202.10" y="135.52" width="2.60" height="2.60" fill="#1c1c80"/>
<rect x="205.70" y="141.59" width="2.60" height="2.60" fill="#1c1c80"/>
<rect x="190.80" y="185.86" width="2.60" height="2.60" fill="#1c1c80"/>
<rect x="197.80" y="161.32" width="2.60" height="2.60" fill="#1c1c80"/>
<rect x="200.50" y="168.91" width="2.60" height="2.60" fill="#1c1c80"/>
<rect x="204.60" y="176.00" width="2.60" height="2.60" fill="#1c1c80"/>
<rect x="206.90" y="182.07" width="2.60" height="2.60" fill="#1c1c80"/>
<rect x="195.90" y="210.40" width="2.60" height="2.60" fill="#1c1c80"/>
<rect x="199.80" y="198.26" width="2.60" height="2.60" fill="#1c1c80"/>
<rect x="200.20" y="222.55" width="2.60" height="2.60" fill="#1c1c80"/>
<rect x="205.90" y="214.45" width="2.60" height="2.60" fill="#1c1c80"/>
<rect x="204.60" y="230.64" width="2.60" height="2.60" fill="#1c1c80"/>
<text x="164.80" y="19.45" font-family="'DejaVu Sans', Verdana, sans-serif" font-size="6.7" fill="#1a1a1a" stroke="#1a1a1a" stroke-width="0.08">Q4P7U9</text>
<text x="228.00" y="19.45" font-family="'DejaVu Sans', Verdana, sans-serif" font-size="6.7" font-style="italic" text-anchor="end" fill="#1a1a1a" stroke="#1a1a1a" stroke-width="0.08">U. maydis</text>
<text x="179.70" y="27.55" font-family="'DejaVu Sans', Verdana, sans-serif" font-size="6.7" fill="#1a1a1a" stroke="#1a1a1a" stroke-width="0.08">Trire2123152</text>
<text x="253.80" y="27.55" font-family="'DejaVu Sans', Verdana, sans-serif" font-size="6.7" font-style="italic" text-anchor="end" fill="#1a1a1a" stroke="#1a1a1a" stroke-width="0.08">T. reesei</text>
<text x="182.20" y="35.64" font-family="'DejaVu Sans', Verdana, sans-serif" font-size="6.7" fill="#1a1a1a" stroke="#1a1a1a" stroke-width="0.08">A4R9Z4</text>
<text x="244.00" y="35.64" font-family="'DejaVu Sans', Verdana, sans-serif" font-size="6.7" font-style="italic" text-anchor="end" fill="#1a1a1a" stroke="#1a1a1a" stroke-width="0.08">M. grisea</text>
<text x="182.30" y="43.74" font-family="'DejaVu Sans', Verdana, sans-serif" font-size="6.7" fill="#1a1a1a" stroke="#1a1a1a" stroke-width="0.08">Q871S0</text>
<text x="244.00" y="43.74" font-family="'DejaVu Sans', Verdana, sans-serif" font-size="6.7" font-style="italic" text-anchor="end" fill="#1a1a1a" stroke="#1a1a1a" stroke-width="0.08">N. crassa</text>
<text x="181.00" y="51.83" font-family="'DejaVu Sans', Verdana, sans-serif" font-size="6.7" fill="#1a1a1a" stroke="#1a1a1a" stroke-width="0.08">Mycgr376143</text>
<text x="278.60" y="51.83" font-family="'DejaVu Sans', Verdana, sans-serif" font-size="6.7" font-style="italic" text-anchor="end" fill="#1a1a1a" stroke="#1a1a1a" stroke-width="0.08">M. graminicola</text>
<text x="182.70" y="59.93" font-family="'DejaVu Sans', Verdana, sans-serif" font-size="6.7" fill="#1a1a1a" stroke="#1a1a1a" stroke-width="0.08">HCAG_02315T0</text>
<text x="278.60" y="59.93" font-family="'DejaVu Sans', Verdana, sans-serif" font-size="6.7" font-style="italic" text-anchor="end" fill="#1a1a1a" stroke="#1a1a1a" stroke-width="0.08">A. capsulata</text>
<text x="184.80" y="68.03" font-family="'DejaVu Sans', Verdana, sans-serif" font-size="6.7" fill="#1a1a1a" stroke="#1a1a1a" stroke-width="0.08">A0A159DCK4</text>
<text x="264.60" y="68.03" font-family="'DejaVu Sans', Verdana, sans-serif" font-size="6.7" font-style="italic" text-anchor="end" fill="#1a1a1a" stroke="#1a1a1a" stroke-width="0.08">A. oryzae</text>
<text x="184.80" y="76.12" font-family="'DejaVu Sans', Verdana, sans-serif" font-size="6.7" fill="#1a1a1a" stroke="#1a1a1a" stroke-width="0.08">A0A161ZLY0</text>
<text x="282.30" y="76.12" font-family="'DejaVu Sans', Verdana, sans-serif" font-size="6.7" font-style="italic" text-anchor="end" fill="#1a1a1a" stroke="#1a1a1a" stroke-width="0.08">P. chrysogenum</text>
<text x="184.80" y="84.22" font-family="'DejaVu Sans', Verdana, sans-serif" font-size="6.7" fill="#1a1a1a" stroke="#1a1a1a" stroke-width="0.08">A0A167RDV0</text>
<text x="286.30" y="84.22" font-family="'DejaVu Sans', Verdana, sans-serif" font-size="6.7" font-style="italic" text-anchor="end" fill="#1a1a1a" stroke="#1a1a1a" stroke-width="0.08">P. chrysogenum</text>
<text x="189.70" y="92.31" font-family="'DejaVu Sans', Verdana, sans-serif" font-size="6.7" fill="#1a1a1a" stroke="#1a1a1a" stroke-width="0.08">BC1T_13811</text>
<text x="277.80" y="92.31" font-family="'DejaVu Sans', Verdana, sans-serif" font-size="6.7" font-style="italic" text-anchor="end" fill="#1a1a1a" stroke="#1a1a1a" stroke-width="0.08">B. fuckeliana</text>
<text x="192.60" y="100.41" font-family="'DejaVu Sans', Verdana, sans-serif" font-size="6.7" fill="#1a1a1a" stroke="#1a1a1a" stroke-width="0.08">A4QTU1</text>
<text x="253.40" y="100.41" font-family="'DejaVu Sans', Verdana, sans-serif" font-size="6.7" font-style="italic" text-anchor="end" fill="#1a1a1a" stroke="#1a1a1a" stroke-width="0.08">M. grisea</text>
<text x="192.00" y="108.51" font-family="'DejaVu Sans', Verdana, sans-serif" font-size="6.7" fill="#1a1a1a" stroke="#1a1a1a" stroke-width="0.08">Q7S6L7</text>
<text x="252.20" y="108.51" font-family="'DejaVu Sans', Verdana, sans-serif" font-size="6.7" font-style="italic" text-anchor="end" fill="#1a1a1a" stroke="#1a1a1a" stroke-width="0.08">N. crassa</text>
<text x="208.90" y="116.60" font-family="'DejaVu Sans', Verdana, sans-serif" font-size="6.7" fill="#1a1a1a" stroke="#1a1a1a" stroke-width="0.08">Q5K7B1</text>
<text x="286.10" y="116.60" font-family="'DejaVu Sans', Verdana, sans-serif" font-size="6.7" font-style="italic" text-anchor="end" fill="#1a1a1a" stroke="#1a1a1a" stroke-width="0.08">C. neoformans</text>
<text x="207.90" y="124.70" font-family="'DejaVu Sans', Verdana, sans-serif" font-size="6.7" fill="#1a1a1a" stroke="#1a1a1a" stroke-width="0.08">Q1K585</text>
<text x="269.20" y="124.70" font-family="'DejaVu Sans', Verdana, sans-serif" font-size="6.7" font-style="italic" text-anchor="end" fill="#1a1a1a" stroke="#1a1a1a" stroke-width="0.08">N. crassa</text>
<text x="210.80" y="132.79" font-family="'DejaVu Sans', Verdana, sans-serif" font-size="6.7" fill="#1a1a1a" stroke="#1a1a1a" stroke-width="0.08">BC1T_05581</text>
<text x="298.70" y="132.79" font-family="'DejaVu Sans', Verdana, sans-serif" font-size="6.7" font-style="italic" text-anchor="end" fill="#1a1a1a" stroke="#1a1a1a" stroke-width="0.08">B. fuckeliana</text>
<text x="211.80" y="140.89" font-family="'DejaVu Sans', Verdana, sans-serif" font-size="6.7" fill="#1a1a1a" stroke="#1a1a1a" stroke-width="0.08">Mycgr368771</text>
<text x="311.10" y="140.89" font-family="'DejaVu Sans', Verdana, sans-serif" font-size="6.7" font-style="italic" text-anchor="end" fill="#1a1a1a" stroke="#1a1a1a" stroke-width="0.08">M. graminicola</text>
<text x="214.80" y="148.99" font-family="'DejaVu Sans', Verdana, sans-serif" font-size="6.7" fill="#1a1a1a" stroke="#1a1a1a" stroke-width="0.08">A4QVN7</text>
<text x="274.70" y="148.99" font-family="'DejaVu Sans', Verdana, sans-serif" font-size="6.7" font-style="italic" text-anchor="end" fill="#1a1a1a" stroke="#1a1a1a" stroke-width="0.08">M. grisea</text>
<text x="204.90" y="157.08" font-family="'DejaVu Sans', Verdana, sans-serif" font-size="6.7" fill="#1a1a1a" stroke="#1a1a1a" stroke-width="0.08">Mycgr346865</text>
<text x="302.20" y="157.08" font-family="'DejaVu Sans', Verdana, sans-serif" font-size="6.7" font-style="italic" text-anchor="end" fill="#1a1a1a" stroke="#1a1a1a" stroke-width="0.08">M. graminicola</text>
<text x="208.30" y="165.18" font-family="'DejaVu Sans', Verdana, sans-serif" font-size="6.7" fill="#1a1a1a" stroke="#1a1a1a" stroke-width="0.08">BC1T_00092</text>
<text x="296.00" y="165.18" font-family="'DejaVu Sans', Verdana, sans-serif" font-size="6.7" font-style="italic" text-anchor="end" fill="#1a1a1a" stroke="#1a1a1a" stroke-width="0.08">B. fuckeliana</text>
<text x="212.80" y="173.27" font-family="'DejaVu Sans', Verdana, sans-serif" font-size="6.7" fill="#1a1a1a" stroke="#1a1a1a" stroke-width="0.08">Trire227599</text>
<text x="281.70" y="173.27" font-family="'DejaVu Sans', Verdana, sans-serif" font-size="6.7" font-style="italic" text-anchor="end" fill="#1a1a1a" stroke="#1a1a1a" stroke-width="0.08">T. reesei</text>
<text x="213.40" y="181.37" font-family="'DejaVu Sans', Verdana, sans-serif" font-size="6.7" fill="#1a1a1a" stroke="#1a1a1a" stroke-width="0.08">Q7SCR5</text>
<text x="276.30" y="181.37" font-family="'DejaVu Sans', Verdana, sans-serif" font-size="6.7" font-style="italic" text-anchor="end" fill="#1a1a1a" stroke="#1a1a1a" stroke-width="0.08">N. crassa</text>
<text x="214.20" y="189.47" font-family="'DejaVu Sans', Verdana, sans-serif" font-size="6.7" fill="#1a1a1a" stroke="#1a1a1a" stroke-width="0.08">A4QVB2</text>
<text x="274.50" y="189.47" font-family="'DejaVu Sans', Verdana, sans-serif" font-size="6.7" font-style="italic" text-anchor="end" fill="#1a1a1a" stroke="#1a1a1a" stroke-width="0.08">M. grisea</text>
<text x="216.10" y="197.56" font-family="'DejaVu Sans', Verdana, sans-serif" font-size="6.7" fill="#1a1a1a" stroke="#1a1a1a" stroke-width="0.08">A0A1D8NP77</text>
<text x="301.50" y="197.56" font-family="'DejaVu Sans', Verdana, sans-serif" font-size="6.7" font-style="italic" text-anchor="end" fill="#1a1a1a" stroke="#1a1a1a" stroke-width="0.08">Y. lipolytica</text>
<text x="207.60" y="205.66" font-family="'DejaVu Sans', Verdana, sans-serif" font-size="6.7" fill="#1a1a1a" stroke="#1a1a1a" stroke-width="0.08">GECA16s01418g</text>
<text x="310.60" y="205.66" font-family="'DejaVu Sans', Verdana, sans-serif" font-size="6.7" font-style="italic" text-anchor="end" fill="#1a1a1a" stroke="#1a1a1a" stroke-width="0.08">G. candidum</text>
<text x="213.00" y="213.75" font-family="'DejaVu Sans', Verdana, sans-serif" font-size="6.7" fill="#1a1a1a" stroke="#1a1a1a" stroke-width="0.08">B5RUG0</text>
<text x="281.20" y="213.75" font-family="'DejaVu Sans', Verdana, sans-serif" font-size="6.7" font-style="italic" text-anchor="end" fill="#1a1a1a" stroke="#1a1a1a" stroke-width="0.08">D. hansenii</text>
<text x="215.00" y="221.85" font-family="'DejaVu Sans', Verdana, sans-serif" font-size="6.7" fill="#1a1a1a" stroke="#1a1a1a" stroke-width="0.08">A0A202G6B3</text>
<text x="302.00" y="223.15" font-family="'DejaVu Sans', Verdana, sans-serif" font-size="6.7" font-style="italic" text-anchor="end" fill="#1a1a1a" stroke="#1a1a1a" stroke-width="0.08">C. lusitaniae</text>
<text x="215.00" y="229.95" font-family="'DejaVu Sans', Verdana, sans-serif" font-size="6.7" fill="#1a1a1a" stroke="#1a1a1a" stroke-width="0.08">C4R7Z9</text>
<text x="278.50" y="229.95" font-family="'DejaVu Sans', Verdana, sans-serif" font-size="6.7" font-style="italic" text-anchor="end" fill="#1a1a1a" stroke="#1a1a1a" stroke-width="0.08">P. pastoris</text>
<text x="215.60" y="238.04" font-family="'DejaVu Sans', Verdana, sans-serif" font-size="6.7" fill="#1a1a1a" stroke="#1a1a1a" stroke-width="0.08">Hanpo2_16461</text>
<text x="304.20" y="238.04" font-family="'DejaVu Sans', Verdana, sans-serif" font-size="6.7" font-style="italic" text-anchor="end" fill="#1a1a1a" stroke="#1a1a1a" stroke-width="0.08">O. angusta</text>
<defs><radialGradient id="gg" cx="45%" cy="42%" r="60%"><stop offset="0" stop-color="#cfe6c8"/><stop offset="0.45" stop-color="#8cc384"/><stop offset="0.8" stop-color="#4c9c4a"/><stop offset="1" stop-color="#2e7a30"/></radialGradient></defs>
<circle cx="210.2" cy="195.51" r="3.7" fill="url(#gg)"/>
<rect x="375.60" y="12.80" width="170.70" height="5.60" fill="#efefef"/>
<line x1="375.60" y1="15.60" x2="546.30" y2="15.60" stroke="#8c8c8c" stroke-width="1.1"/>
<rect x="375.80" y="13.35" width="1.20" height="4.5" rx="0.4" fill="#4a7ad2"/>
<rect x="379.60" y="13.35" width="1.20" height="4.5" rx="0.4" fill="#d24a4a"/>
<rect x="381.10" y="13.35" width="1.50" height="4.5" rx="0.4" fill="#e8983c"/>
<rect x="382.80" y="13.35" width="2.00" height="4.5" rx="0.4" fill="#9a72c4"/>
<rect x="384.90" y="13.35" width="1.50" height="4.5" rx="0.4" fill="#d24a4a"/>
<rect x="386.60" y="13.35" width="2.20" height="4.5" rx="0.4" fill="#c8aa78"/>
<rect x="389.00" y="13.35" width="1.00" height="4.5" rx="0.4" fill="#5aa452"/>
<rect x="390.00" y="13.35" width="1.80" height="4.5" rx="0.4" fill="#d24a4a"/>
<rect x="392.00" y="13.35" width="1.20" height="4.5" rx="0.4" fill="#d8c44c"/>
<rect x="393.50" y="13.35" width="2.00" height="4.5" rx="0.4" fill="#a47a52"/>
<rect x="395.60" y="13.35" width="1.50" height="4.5" rx="0.4" fill="#8a8a9a"/>
<rect x="397.20" y="13.35" width="1.20" height="4.5" rx="0.4" fill="#5aa452"/>
<rect x="400.00" y="13.35" width="1.20" height="4.5" rx="0.4" fill="#5aa452"/>
<rect x="401.40" y="13.35" width="1.80" height="4.5" rx="0.4" fill="#4a7ad2"/>
<rect x="403.50" y="13.35" width="1.80" height="4.5" rx="0.4" fill="#3aa9a2"/>
<rect x="405.60" y="13.35" width="1.20" height="4.5" rx="0.4" fill="#e8983c"/>
<rect x="407.00" y="13.35" width="1.00" height="4.5" rx="0.4" fill="#5aa452"/>
<rect x="411.70" y="13.35" width="1.50" height="4.5" rx="0.4" fill="#e8983c"/>
<rect x="413.30" y="13.35" width="2.20" height="4.5" rx="0.4" fill="#4a7ad2"/>
<rect x="415.70" y="13.35" width="1.50" height="4.5" rx="0.4" fill="#40b0d8"/>
<rect x="417.50" y="13.35" width="1.80" height="4.5" rx="0.4" fill="#8a8a9a"/>
<rect x="419.60" y="13.35" width="2.00" height="4.5" rx="0.4" fill="#3aa9a2"/>
<rect x="421.90" y="13.35" width="1.80" height="4.5" rx="0.4" fill="#a4a452"/>
<rect x="423.90" y="13.35" width="1.50" height="4.5" rx="0.4" fill="#3aa9a2"/>
<rect x="425.60" y="13.35" width="1.20" height="4.5" rx="0.4" fill="#40b0d8"/>
<rect x="426.90" y="13.35" width="1.80" height="4.5" rx="0.4" fill="#a47a52"/>
<rect x="437.20" y="13.35" width="1.50" height="4.5" rx="0.4" fill="#9a72c4"/>
<rect x="439.00" y="13.35" width="1.20" height="4.5" rx="0.4" fill="#a4a452"/>
<rect x="440.30" y="13.35" width="1.70" height="4.5" rx="0.4" fill="#3aa9a2"/>
<rect x="444.60" y="13.35" width="1.20" height="4.5" rx="0.4" fill="#9a72c4"/>
<rect x="448.60" y="13.35" width="1.20" height="4.5" rx="0.4" fill="#d8c44c"/>
<rect x="471.20" y="13.35" width="2.00" height="4.5" rx="0.4" fill="#c8aa78"/>
<rect x="473.90" y="12.35" width="56.70" height="6.5" rx="0.6" fill="url(#cg)"/>
<text x="502.25" y="17.60" font-family="'Liberation Sans', Arial, sans-serif" font-size="5.8" text-anchor="middle" fill="#463030" textLength="33.00" lengthAdjust="spacingAndGlyphs" stroke="#463030" stroke-width="0.05">Cation_efflux</text>
<rect x="530.60" y="13.60" width="1.40" height="4.00" fill="#7a4ab0"/>
<rect x="375.60" y="20.88" width="170.70" height="5.60" fill="#efefef"/>
<line x1="375.60" y1="23.68" x2="546.30" y2="23.68" stroke="#8c8c8c" stroke-width="1.1"/>
<rect x="375.80" y="21.43" width="2.00" height="4.5" rx="0.4" fill="#9a72c4"/>
<rect x="381.00" y="21.43" width="2.20" height="4.5" rx="0.4" fill="#e8983c"/>
<rect x="386.60" y="21.43" width="1.40" height="4.5" rx="0.4" fill="#c8aa78"/>
<rect x="400.00" y="21.43" width="1.20" height="4.5" rx="0.4" fill="#d8c44c"/>
<rect x="401.40" y="21.43" width="2.20" height="4.5" rx="0.4" fill="#4a7ad2"/>
<rect x="403.80" y="21.43" width="1.20" height="4.5" rx="0.4" fill="#c8aa78"/>
<rect x="411.70" y="21.43" width="1.20" height="4.5" rx="0.4" fill="#9a72c4"/>
<rect x="413.10" y="21.43" width="1.20" height="4.5" rx="0.4" fill="#a4a452"/>
<rect x="414.50" y="21.43" width="1.80" height="4.5" rx="0.4" fill="#d8c44c"/>
<rect x="416.60" y="21.43" width="2.00" height="4.5" rx="0.4" fill="#8a8a9a"/>
<rect x="418.90" y="21.43" width="1.80" height="4.5" rx="0.4" fill="#d8c44c"/>
<rect x="421.00" y="21.43" width="2.20" height="4.5" rx="0.4" fill="#e8983c"/>
<rect x="423.50" y="21.43" width="2.20" height="4.5" rx="0.4" fill="#5aa452"/>
<rect x="426.00" y="21.43" width="2.00" height="4.5" rx="0.4" fill="#9a72c4"/>
<rect x="428.10" y="21.43" width="0.60" height="4.5" rx="0.4" fill="#d8c44c"/>
<rect x="437.20" y="21.43" width="1.80" height="4.5" rx="0.4" fill="#9a72c4"/>
<rect x="439.30" y="21.43" width="2.20" height="4.5" rx="0.4" fill="#5aa452"/>
<rect x="444.60" y="21.43" width="1.20" height="4.5" rx="0.4" fill="#d24a4a"/>
<rect x="448.60" y="21.43" width="1.50" height="4.5" rx="0.4" fill="#e8983c"/>
<rect x="471.20" y="21.43" width="1.20" height="4.5" rx="0.4" fill="#5aa452"/>
<rect x="472.70" y="21.43" width="0.90" height="4.5" rx="0.4" fill="#40b0d8"/>
<rect x="473.90" y="20.43" width="56.70" height="6.5" rx="0.6" fill="url(#cg)"/>
<text x="502.25" y="25.68" font-family="'Liberation Sans', Arial, sans-serif" font-size="5.8" text-anchor="middle" fill="#463030" textLength="33.00" lengthAdjust="spacingAndGlyphs" stroke="#463030" stroke-width="0.05">Cation_efflux</text>
<rect x="530.60" y="21.68" width="1.40" height="4.00" fill="#4a7ad2"/>
<rect x="375.60" y="28.96" width="170.70" height="5.60" fill="#efefef"/>
<line x1="375.60" y1="31.76" x2="546.30" y2="31.76" stroke="#8c8c8c" stroke-width="1.1"/>
<rect x="375.80" y="29.51" width="1.50" height="4.5" rx="0.4" fill="#c8aa78"/>
<rect x="381.00" y="29.51" width="1.80" height="4.5" rx="0.4" fill="#c8aa78"/>
<rect x="386.60" y="29.51" width="1.40" height="4.5" rx="0.4" fill="#5aa452"/>
<rect x="400.40" y="29.51" width="1.80" height="4.5" rx="0.4" fill="#8a8a9a"/>
<rect x="402.50" y="29.51" width="2.00" height="4.5" rx="0.4" fill="#5aa452"/>
<rect x="404.80" y="29.51" width="1.50" height="4.5" rx="0.4" fill="#e8983c"/>
<rect x="406.50" y="29.51" width="1.50" height="4.5" rx="0.4" fill="#c8aa78"/>
<rect x="411.70" y="29.51" width="1.20" height="4.5" rx="0.4" fill="#a4a452"/>
<rect x="413.10" y="29.51" width="2.20" height="4.5" rx="0.4" fill="#4a7ad2"/>
<rect x="415.50" y="29.51" width="1.80" height="4.5" rx="0.4" fill="#a4a452"/>
<rect x="417.40" y="29.51" width="1.20" height="4.5" rx="0.4" fill="#d8c44c"/>
<rect x="418.80" y="29.51" width="1.80" height="4.5" rx="0.4" fill="#c8aa78"/>
<rect x="420.90" y="29.51" width="1.20" height="4.5" rx="0.4" fill="#a47a52"/>
<rect x="422.40" y="29.51" width="1.20" height="4.5" rx="0.4" fill="#d24a4a"/>
<rect x="423.80" y="29.51" width="1.20" height="4.5" rx="0.4" fill="#5aa452"/>
<rect x="425.30" y="29.51" width="1.20" height="4.5" rx="0.4" fill="#3aa9a2"/>
<rect x="426.80" y="29.51" width="1.50" height="4.5" rx="0.4" fill="#a47a52"/>
<rect x="428.70" y="29.51" width="1.20" height="4.5" rx="0.4" fill="#40b0d8"/>
<rect x="430.00" y="29.51" width="2.00" height="4.5" rx="0.4" fill="#a47a52"/>
<rect x="432.30" y="29.51" width="1.50" height="4.5" rx="0.4" fill="#c8aa78"/>
<rect x="433.90" y="29.51" width="1.50" height="4.5" rx="0.4" fill="#d8c44c"/>
<rect x="435.70" y="29.51" width="1.20" height="4.5" rx="0.4" fill="#d8c44c"/>
<rect x="437.10" y="29.51" width="2.20" height="4.5" rx="0.4" fill="#5aa452"/>
<rect x="439.50" y="29.51" width="2.00" height="4.5" rx="0.4" fill="#a47a52"/>
<rect x="444.60" y="29.51" width="1.20" height="4.5" rx="0.4" fill="#d24a4a"/>
<rect x="448.60" y="29.51" width="1.20" height="4.5" rx="0.4" fill="#c8aa78"/>
<rect x="471.20" y="29.51" width="1.80" height="4.5" rx="0.4" fill="#5aa452"/>
<rect x="473.20" y="29.51" width="0.40" height="4.5" rx="0.4" fill="#4a7ad2"/>
<rect x="473.90" y="28.51" width="56.70" height="6.5" rx="0.6" fill="url(#cg)"/>
<text x="502.25" y="33.76" font-family="'Liberation Sans', Arial, sans-serif" font-size="5.8" text-anchor="middle" fill="#463030" textLength="33.00" lengthAdjust="spacingAndGlyphs" stroke="#463030" stroke-width="0.05">Cation_efflux</text>
<rect x="530.60" y="29.76" width="1.40" height="4.00" fill="#7a4ab0"/>
<rect x="375.60" y="37.03" width="170.70" height="5.60" fill="#efefef"/>
<line x1="375.60" y1="39.83" x2="546.30" y2="39.83" stroke="#8c8c8c" stroke-width="1.1"/>
<rect x="375.80" y="37.58" width="1.80" height="4.5" rx="0.4" fill="#a4a452"/>
<rect x="381.00" y="37.58" width="1.20" height="4.5" rx="0.4" fill="#4a7ad2"/>
<rect x="382.30" y="37.58" width="1.00" height="4.5" rx="0.4" fill="#4a7ad2"/>
<rect x="386.60" y="37.58" width="1.40" height="4.5" rx="0.4" fill="#a4a452"/>
<rect x="400.00" y="37.58" width="2.20" height="4.5" rx="0.4" fill="#5aa452"/>
<rect x="402.50" y="37.58" width="1.20" height="4.5" rx="0.4" fill="#40b0d8"/>
<rect x="404.00" y="37.58" width="1.80" height="4.5" rx="0.4" fill="#c8aa78"/>
<rect x="405.90" y="37.58" width="1.80" height="4.5" rx="0.4" fill="#d8c44c"/>
<rect x="411.70" y="37.58" width="1.20" height="4.5" rx="0.4" fill="#d24a4a"/>
<rect x="413.20" y="37.58" width="1.20" height="4.5" rx="0.4" fill="#a47a52"/>
<rect x="414.70" y="37.58" width="2.20" height="4.5" rx="0.4" fill="#5aa452"/>
<rect x="417.00" y="37.58" width="1.80" height="4.5" rx="0.4" fill="#a47a52"/>
<rect x="419.00" y="37.58" width="1.20" height="4.5" rx="0.4" fill="#d8c44c"/>
<rect x="420.30" y="37.58" width="1.50" height="4.5" rx="0.4" fill="#8a8a9a"/>
<rect x="421.90" y="37.58" width="1.50" height="4.5" rx="0.4" fill="#5aa452"/>
<rect x="423.70" y="37.58" width="2.20" height="4.5" rx="0.4" fill="#d24a4a"/>
<rect x="426.10" y="37.58" width="2.20" height="4.5" rx="0.4" fill="#e8983c"/>
<rect x="428.50" y="37.58" width="1.80" height="4.5" rx="0.4" fill="#5aa452"/>
<rect x="430.50" y="37.58" width="1.20" height="4.5" rx="0.4" fill="#9a72c4"/>
<rect x="431.80" y="37.58" width="1.50" height="4.5" rx="0.4" fill="#9a72c4"/>
<rect x="433.50" y="37.58" width="1.50" height="4.5" rx="0.4" fill="#a47a52"/>
<rect x="435.20" y="37.58" width="2.00" height="4.5" rx="0.4" fill="#8a8a9a"/>
<rect x="437.50" y="37.58" width="1.80" height="4.5" rx="0.4" fill="#4a7ad2"/>
<rect x="439.40" y="37.58" width="1.50" height="4.5" rx="0.4" fill="#4a7ad2"/>
<rect x="441.20" y="37.58" width="0.80" height="4.5" rx="0.4" fill="#3aa9a2"/>
<rect x="444.60" y="37.58" width="1.20" height="4.5" rx="0.4" fill="#c8aa78"/>
<rect x="448.60" y="37.58" width="1.60" height="4.5" rx="0.4" fill="#4a7ad2"/>
<rect x="471.20" y="37.58" width="2.20" height="4.5" rx="0.4" fill="#8a8a9a"/>
<rect x="473.90" y="36.58" width="56.70" height="6.5" rx="0.6" fill="url(#cg)"/>
<text x="502.25" y="41.83" font-family="'Liberation Sans', Arial, sans-serif" font-size="5.8" text-anchor="middle" fill="#463030" textLength="33.00" lengthAdjust="spacingAndGlyphs" stroke="#463030" stroke-width="0.05">Cation_efflux</text>
<rect x="530.60" y="37.83" width="1.40" height="4.00" fill="#7a4ab0"/>
<rect x="375.60" y="45.11" width="170.70" height="5.60" fill="#efefef"/>
<line x1="375.60" y1="47.91" x2="546.30" y2="47.91" stroke="#8c8c8c" stroke-width="1.1"/>
<rect x="375.80" y="45.66" width="2.00" height="4.5" rx="0.4" fill="#5aa452"/>
<rect x="381.00" y="45.66" width="1.50" height="4.5" rx="0.4" fill="#d8c44c"/>
<rect x="382.60" y="45.66" width="0.70" height="4.5" rx="0.4" fill="#40b0d8"/>
<rect x="386.60" y="45.66" width="1.40" height="4.5" rx="0.4" fill="#d8c44c"/>
<rect x="400.00" y="45.66" width="1.50" height="4.5" rx="0.4" fill="#5aa452"/>
<rect x="401.60" y="45.66" width="1.50" height="4.5" rx="0.4" fill="#8a8a9a"/>
<rect x="403.20" y="45.66" width="2.00" height="4.5" rx="0.4" fill="#a47a52"/>
<rect x="405.40" y="45.66" width="2.00" height="4.5" rx="0.4" fill="#3aa9a2"/>
<rect x="411.70" y="45.66" width="1.50" height="4.5" rx="0.4" fill="#9a72c4"/>
<rect x="413.40" y="45.66" width="1.80" height="4.5" rx="0.4" fill="#e8983c"/>
<rect x="415.30" y="45.66" width="1.50" height="4.5" rx="0.4" fill="#c8aa78"/>
<rect x="416.90" y="45.66" width="1.50" height="4.5" rx="0.4" fill="#3aa9a2"/>
<rect x="418.50" y="45.66" width="1.50" height="4.5" rx="0.4" fill="#d8c44c"/>
<rect x="420.30" y="45.66" width="2.00" height="4.5" rx="0.4" fill="#a4a452"/>
<rect x="422.40" y="45.66" width="2.00" height="4.5" rx="0.4" fill="#40b0d8"/>
<rect x="424.60" y="45.66" width="2.20" height="4.5" rx="0.4" fill="#a47a52"/>
<rect x="427.00" y="45.66" width="1.70" height="4.5" rx="0.4" fill="#9a72c4"/>
<rect x="436.50" y="45.66" width="1.50" height="4.5" rx="0.4" fill="#a47a52"/>
<rect x="438.10" y="45.66" width="1.50" height="4.5" rx="0.4" fill="#3aa9a2"/>
<rect x="439.80" y="45.66" width="1.80" height="4.5" rx="0.4" fill="#40b0d8"/>
<rect x="444.60" y="45.66" width="1.20" height="4.5" rx="0.4" fill="#3aa9a2"/>
<rect x="448.60" y="45.66" width="1.60" height="4.5" rx="0.4" fill="#a4a452"/>
<rect x="471.20" y="45.66" width="2.00" height="4.5" rx="0.4" fill="#4a7ad2"/>
<rect x="473.90" y="44.66" width="56.70" height="6.5" rx="0.6" fill="url(#cg)"/>
<text x="502.25" y="49.91" font-family="'Liberation Sans', Arial, sans-serif" font-size="5.8" text-anchor="middle" fill="#463030" textLength="33.00" lengthAdjust="spacingAndGlyphs" stroke="#463030" stroke-width="0.05">Cation_efflux</text>
<rect x="530.60" y="45.91" width="1.40" height="4.00" fill="#3aa9a2"/>
<rect x="375.60" y="53.19" width="170.70" height="5.60" fill="#efefef"/>
<line x1="375.60" y1="55.99" x2="546.30" y2="55.99" stroke="#8c8c8c" stroke-width="1.1"/>
<rect x="375.80" y="53.74" width="2.00" height="4.5" rx="0.4" fill="#d24a4a"/>
<rect x="381.00" y="53.74" width="1.20" height="4.5" rx="0.4" fill="#e8983c"/>
<rect x="382.40" y="53.74" width="0.90" height="4.5" rx="0.4" fill="#8a8a9a"/>
<rect x="386.60" y="53.74" width="1.40" height="4.5" rx="0.4" fill="#3aa9a2"/>
<rect x="400.00" y="53.74" width="1.50" height="4.5" rx="0.4" fill="#3aa9a2"/>
<rect x="401.60" y="53.74" width="0.90" height="4.5" rx="0.4" fill="#d24a4a"/>
<rect x="403.20" y="53.74" width="1.30" height="4.5" rx="0.4" fill="#8a8a9a"/>
<rect x="406.50" y="53.74" width="1.00" height="4.5" rx="0.4" fill="#c8aa78"/>
<rect x="411.70" y="53.74" width="1.30" height="4.5" rx="0.4" fill="#40b0d8"/>
<rect x="415.80" y="53.74" width="2.20" height="4.5" rx="0.4" fill="#4a7ad2"/>
<rect x="418.30" y="53.74" width="1.80" height="4.5" rx="0.4" fill="#e8983c"/>
<rect x="420.30" y="53.74" width="2.20" height="4.5" rx="0.4" fill="#9a72c4"/>
<rect x="422.70" y="53.74" width="1.50" height="4.5" rx="0.4" fill="#40b0d8"/>
<rect x="424.40" y="53.74" width="2.20" height="4.5" rx="0.4" fill="#a4a452"/>
<rect x="426.90" y="53.74" width="1.80" height="4.5" rx="0.4" fill="#8a8a9a"/>
<rect x="436.50" y="53.74" width="2.00" height="4.5" rx="0.4" fill="#8a8a9a"/>
<rect x="438.70" y="53.74" width="2.20" height="4.5" rx="0.4" fill="#40b0d8"/>
<rect x="441.00" y="53.74" width="1.00" height="4.5" rx="0.4" fill="#a47a52"/>
<rect x="444.60" y="53.74" width="1.20" height="4.5" rx="0.4" fill="#40b0d8"/>
<rect x="448.60" y="53.74" width="1.60" height="4.5" rx="0.4" fill="#3aa9a2"/>
<rect x="471.20" y="53.74" width="2.20" height="4.5" rx="0.4" fill="#c8aa78"/>
<rect x="473.90" y="52.74" width="56.70" height="6.5" rx="0.6" fill="url(#cg)"/>
<text x="502.25" y="57.99" font-family="'Liberation Sans', Arial, sans-serif" font-size="5.8" text-anchor="middle" fill="#463030" textLength="33.00" lengthAdjust="spacingAndGlyphs" stroke="#463030" stroke-width="0.05">Cation_efflux</text>
<rect x="530.60" y="53.99" width="1.40" height="4.00" fill="#4a7ad2"/>
<rect x="375.60" y="61.27" width="170.70" height="5.60" fill="#efefef"/>
<line x1="375.60" y1="64.07" x2="546.30" y2="64.07" stroke="#8c8c8c" stroke-width="1.1"/>
<rect x="375.80" y="61.82" width="2.00" height="4.5" rx="0.4" fill="#5aa452"/>
<rect x="381.00" y="61.82" width="1.80" height="4.5" rx="0.4" fill="#9a72c4"/>
<rect x="386.60" y="61.82" width="1.40" height="4.5" rx="0.4" fill="#5aa452"/>
<rect x="400.00" y="61.82" width="2.20" height="4.5" rx="0.4" fill="#3aa9a2"/>
<rect x="402.30" y="61.82" width="1.80" height="4.5" rx="0.4" fill="#c8aa78"/>
<rect x="406.00" y="61.82" width="1.50" height="4.5" rx="0.4" fill="#a4a452"/>
<rect x="411.70" y="61.82" width="2.00" height="4.5" rx="0.4" fill="#40b0d8"/>
<rect x="414.00" y="61.82" width="1.50" height="4.5" rx="0.4" fill="#d24a4a"/>
<rect x="415.70" y="61.82" width="2.00" height="4.5" rx="0.4" fill="#9a72c4"/>
<rect x="417.90" y="61.82" width="1.20" height="4.5" rx="0.4" fill="#a4a452"/>
<rect x="419.40" y="61.82" width="2.00" height="4.5" rx="0.4" fill="#8a8a9a"/>
<rect x="421.50" y="61.82" width="2.20" height="4.5" rx="0.4" fill="#8a8a9a"/>
<rect x="423.90" y="61.82" width="1.80" height="4.5" rx="0.4" fill="#d24a4a"/>
<rect x="426.00" y="61.82" width="1.20" height="4.5" rx="0.4" fill="#a4a452"/>
<rect x="427.40" y="61.82" width="1.30" height="4.5" rx="0.4" fill="#a47a52"/>
<rect x="433.50" y="61.82" width="1.80" height="4.5" rx="0.4" fill="#a47a52"/>
<rect x="435.40" y="61.82" width="2.00" height="4.5" rx="0.4" fill="#9a72c4"/>
<rect x="437.70" y="61.82" width="1.20" height="4.5" rx="0.4" fill="#e8983c"/>
<rect x="439.00" y="61.82" width="2.00" height="4.5" rx="0.4" fill="#a47a52"/>
<rect x="441.20" y="61.82" width="0.80" height="4.5" rx="0.4" fill="#c8aa78"/>
<rect x="444.60" y="61.82" width="1.20" height="4.5" rx="0.4" fill="#e8983c"/>
<rect x="448.60" y="61.82" width="1.50" height="4.5" rx="0.4" fill="#8a8a9a"/>
<rect x="471.20" y="61.82" width="2.00" height="4.5" rx="0.4" fill="#9a72c4"/>
<rect x="473.90" y="60.82" width="56.70" height="6.5" rx="0.6" fill="url(#cg)"/>
<text x="502.25" y="66.07" font-family="'Liberation Sans', Arial, sans-serif" font-size="5.8" text-anchor="middle" fill="#463030" textLength="33.00" lengthAdjust="spacingAndGlyphs" stroke="#463030" stroke-width="0.05">Cation_efflux</text>
<rect x="530.60" y="62.07" width="1.40" height="4.00" fill="#4a7ad2"/>
<rect x="375.60" y="69.35" width="170.70" height="5.60" fill="#efefef"/>
<line x1="375.60" y1="72.15" x2="546.30" y2="72.15" stroke="#8c8c8c" stroke-width="1.1"/>
<rect x="375.80" y="69.90" width="1.20" height="4.5" rx="0.4" fill="#40b0d8"/>
<rect x="377.30" y="69.90" width="0.50" height="4.5" rx="0.4" fill="#8a8a9a"/>
<rect x="381.00" y="69.90" width="1.80" height="4.5" rx="0.4" fill="#40b0d8"/>
<rect x="386.60" y="69.90" width="1.20" height="4.5" rx="0.4" fill="#a4a452"/>
<rect x="400.00" y="69.90" width="1.80" height="4.5" rx="0.4" fill="#d24a4a"/>
<rect x="402.10" y="69.90" width="1.50" height="4.5" rx="0.4" fill="#8a8a9a"/>
<rect x="403.80" y="69.90" width="0.70" height="4.5" rx="0.4" fill="#8a8a9a"/>
<rect x="407.00" y="69.90" width="1.00" height="4.5" rx="0.4" fill="#3aa9a2"/>
<rect x="411.70" y="69.90" width="1.30" height="4.5" rx="0.4" fill="#e8983c"/>
<rect x="415.80" y="69.90" width="1.50" height="4.5" rx="0.4" fill="#d24a4a"/>
<rect x="417.60" y="69.90" width="1.80" height="4.5" rx="0.4" fill="#9a72c4"/>
<rect x="419.50" y="69.90" width="2.20" height="4.5" rx="0.4" fill="#4a7ad2"/>
<rect x="422.00" y="69.90" width="1.20" height="4.5" rx="0.4" fill="#e8983c"/>
<rect x="423.50" y="69.90" width="2.00" height="4.5" rx="0.4" fill="#4a7ad2"/>
<rect x="425.80" y="69.90" width="1.20" height="4.5" rx="0.4" fill="#5aa452"/>
<rect x="427.30" y="69.90" width="1.40" height="4.5" rx="0.4" fill="#9a72c4"/>
<rect x="433.50" y="69.90" width="1.20" height="4.5" rx="0.4" fill="#8a8a9a"/>
<rect x="434.90" y="69.90" width="2.00" height="4.5" rx="0.4" fill="#a47a52"/>
<rect x="437.20" y="69.90" width="2.00" height="4.5" rx="0.4" fill="#d8c44c"/>
<rect x="439.50" y="69.90" width="1.20" height="4.5" rx="0.4" fill="#4a7ad2"/>
<rect x="440.90" y="69.90" width="1.10" height="4.5" rx="0.4" fill="#40b0d8"/>
<rect x="444.60" y="69.90" width="1.20" height="4.5" rx="0.4" fill="#4a7ad2"/>
<rect x="448.60" y="69.90" width="1.50" height="4.5" rx="0.4" fill="#9a72c4"/>
<rect x="471.20" y="69.90" width="2.00" height="4.5" rx="0.4" fill="#4a7ad2"/>
<rect x="473.90" y="68.90" width="56.70" height="6.5" rx="0.6" fill="url(#cg)"/>
<text x="502.25" y="74.15" font-family="'Liberation Sans', Arial, sans-serif" font-size="5.8" text-anchor="middle" fill="#463030" textLength="33.00" lengthAdjust="spacingAndGlyphs" stroke="#463030" stroke-width="0.05">Cation_efflux</text>
<rect x="530.60" y="70.15" width="1.40" height="4.00" fill="#40b0d8"/>
<rect x="375.60" y="77.42" width="170.70" height="5.60" fill="#efefef"/>
<line x1="375.60" y1="80.22" x2="546.30" y2="80.22" stroke="#8c8c8c" stroke-width="1.1"/>
<rect x="420.80" y="77.97" width="2.00" height="4.5" rx="0.4" fill="#a47a52"/>
<rect x="423.10" y="77.97" width="1.50" height="4.5" rx="0.4" fill="#d24a4a"/>
<rect x="424.70" y="77.97" width="1.50" height="4.5" rx="0.4" fill="#3aa9a2"/>
<rect x="426.30" y="77.97" width="2.20" height="4.5" rx="0.4" fill="#c8aa78"/>
<rect x="437.80" y="77.97" width="1.80" height="4.5" rx="0.4" fill="#3aa9a2"/>
<rect x="439.70" y="77.97" width="1.50" height="4.5" rx="0.4" fill="#3aa9a2"/>
<rect x="441.30" y="77.97" width="0.70" height="4.5" rx="0.4" fill="#e8983c"/>
<rect x="444.60" y="77.97" width="1.20" height="4.5" rx="0.4" fill="#a47a52"/>
<rect x="448.60" y="77.97" width="1.60" height="4.5" rx="0.4" fill="#d8c44c"/>
<rect x="471.20" y="77.97" width="1.20" height="4.5" rx="0.4" fill="#4a7ad2"/>
<rect x="472.60" y="77.97" width="1.00" height="4.5" rx="0.4" fill="#d8c44c"/>
<rect x="473.90" y="76.97" width="56.70" height="6.5" rx="0.6" fill="url(#cg)"/>
<text x="502.25" y="82.22" font-family="'Liberation Sans', Arial, sans-serif" font-size="5.8" text-anchor="middle" fill="#463030" textLength="33.00" lengthAdjust="spacingAndGlyphs" stroke="#463030" stroke-width="0.05">Cation_efflux</text>
<rect x="530.60" y="77.92" width="1.20" height="4.6" rx="0.5" fill="#a4a452"/>
<rect x="532.10" y="77.92" width="1.60" height="4.6" rx="0.5" fill="#3aa9a2"/>
<rect x="534.00" y="77.92" width="1.00" height="4.6" rx="0.5" fill="#e8983c"/>
<rect x="542.40" y="77.92" width="1.20" height="4.6" rx="0.5" fill="#5aa452"/>
<rect x="543.90" y="77.92" width="1.20" height="4.6" rx="0.5" fill="#9a72c4"/>
<rect x="375.60" y="85.50" width="170.70" height="5.60" fill="#efefef"/>
<line x1="375.60" y1="88.30" x2="546.30" y2="88.30" stroke="#8c8c8c" stroke-width="1.1"/>
<rect x="375.80" y="86.05" width="1.80" height="4.5" rx="0.4" fill="#c8aa78"/>
<rect x="381.00" y="86.05" width="2.20" height="4.5" rx="0.4" fill="#8a8a9a"/>
<rect x="386.60" y="86.05" width="1.40" height="4.5" rx="0.4" fill="#a47a52"/>
<rect x="400.00" y="86.05" width="1.20" height="4.5" rx="0.4" fill="#d24a4a"/>
<rect x="401.50" y="86.05" width="1.20" height="4.5" rx="0.4" fill="#3aa9a2"/>
<rect x="403.00" y="86.05" width="2.00" height="4.5" rx="0.4" fill="#3aa9a2"/>
<rect x="405.20" y="86.05" width="0.80" height="4.5" rx="0.4" fill="#40b0d8"/>
<rect x="411.70" y="86.05" width="1.20" height="4.5" rx="0.4" fill="#8a8a9a"/>
<rect x="415.80" y="86.05" width="1.20" height="4.5" rx="0.4" fill="#c8aa78"/>
<rect x="418.30" y="86.05" width="1.80" height="4.5" rx="0.4" fill="#a47a52"/>
<rect x="420.20" y="86.05" width="2.00" height="4.5" rx="0.4" fill="#5aa452"/>
<rect x="422.40" y="86.05" width="1.20" height="4.5" rx="0.4" fill="#4a7ad2"/>
<rect x="423.80" y="86.05" width="2.00" height="4.5" rx="0.4" fill="#8a8a9a"/>
<rect x="425.90" y="86.05" width="2.20" height="4.5" rx="0.4" fill="#8a8a9a"/>
<rect x="428.20" y="86.05" width="0.50" height="4.5" rx="0.4" fill="#c8aa78"/>
<rect x="437.20" y="86.05" width="1.50" height="4.5" rx="0.4" fill="#5aa452"/>
<rect x="438.90" y="86.05" width="2.20" height="4.5" rx="0.4" fill="#5aa452"/>
<rect x="441.40" y="86.05" width="0.60" height="4.5" rx="0.4" fill="#a47a52"/>
<rect x="444.60" y="86.05" width="1.20" height="4.5" rx="0.4" fill="#d24a4a"/>
<rect x="448.60" y="86.05" width="1.60" height="4.5" rx="0.4" fill="#4a7ad2"/>
<rect x="471.20" y="86.05" width="1.50" height="4.5" rx="0.4" fill="#40b0d8"/>
<rect x="472.90" y="86.05" width="0.70" height="4.5" rx="0.4" fill="#5aa452"/>
<rect x="473.90" y="85.05" width="54.10" height="6.5" rx="0.6" fill="url(#cg)"/>
<text x="500.95" y="90.30" font-family="'Liberation Sans', Arial, sans-serif" font-size="5.8" text-anchor="middle" fill="#463030" textLength="33.00" lengthAdjust="spacingAndGlyphs" stroke="#463030" stroke-width="0.05">Cation_efflux</text>
<rect x="528.00" y="86.30" width="1.40" height="4.00" fill="#40b0d8"/>
<rect x="375.60" y="93.58" width="170.70" height="5.60" fill="#efefef"/>
<line x1="375.60" y1="96.38" x2="546.30" y2="96.38" stroke="#8c8c8c" stroke-width="1.1"/>
<rect x="375.80" y="94.13" width="1.20" height="4.5" rx="0.4" fill="#3aa9a2"/>
<rect x="377.20" y="94.13" width="0.60" height="4.5" rx="0.4" fill="#5aa452"/>
<rect x="381.00" y="94.13" width="2.00" height="4.5" rx="0.4" fill="#a47a52"/>
<rect x="386.60" y="94.13" width="1.40" height="4.5" rx="0.4" fill="#9a72c4"/>
<rect x="400.00" y="94.13" width="2.20" height="4.5" rx="0.4" fill="#e8983c"/>
<rect x="402.50" y="94.13" width="2.20" height="4.5" rx="0.4" fill="#9a72c4"/>
<rect x="405.00" y="94.13" width="1.00" height="4.5" rx="0.4" fill="#40b0d8"/>
<rect x="411.70" y="94.13" width="1.30" height="4.5" rx="0.4" fill="#e8983c"/>
<rect x="415.10" y="94.13" width="1.80" height="4.5" rx="0.4" fill="#5aa452"/>
<rect x="417.10" y="94.13" width="1.20" height="4.5" rx="0.4" fill="#c8aa78"/>
<rect x="418.50" y="94.13" width="2.20" height="4.5" rx="0.4" fill="#4a7ad2"/>
<rect x="421.00" y="94.13" width="2.20" height="4.5" rx="0.4" fill="#9a72c4"/>
<rect x="423.50" y="94.13" width="1.50" height="4.5" rx="0.4" fill="#d24a4a"/>
<rect x="425.10" y="94.13" width="1.20" height="4.5" rx="0.4" fill="#a47a52"/>
<rect x="426.60" y="94.13" width="1.50" height="4.5" rx="0.4" fill="#a47a52"/>
<rect x="437.20" y="94.13" width="2.00" height="4.5" rx="0.4" fill="#a47a52"/>
<rect x="439.50" y="94.13" width="2.00" height="4.5" rx="0.4" fill="#d24a4a"/>
<rect x="444.60" y="94.13" width="1.20" height="4.5" rx="0.4" fill="#3aa9a2"/>
<rect x="448.60" y="94.13" width="1.50" height="4.5" rx="0.4" fill="#5aa452"/>
<rect x="471.20" y="94.13" width="1.20" height="4.5" rx="0.4" fill="#40b0d8"/>
<rect x="472.60" y="94.13" width="1.00" height="4.5" rx="0.4" fill="#e8983c"/>
<rect x="473.90" y="93.13" width="56.70" height="6.5" rx="0.6" fill="url(#cg)"/>
<text x="502.25" y="98.38" font-family="'Liberation Sans', Arial, sans-serif" font-size="5.8" text-anchor="middle" fill="#463030" textLength="33.00" lengthAdjust="spacingAndGlyphs" stroke="#463030" stroke-width="0.05">Cation_efflux</text>
<rect x="530.80" y="94.08" width="1.20" height="4.6" rx="0.5" fill="#5aa452"/>
<rect x="532.30" y="94.08" width="2.00" height="4.6" rx="0.5" fill="#d24a4a"/>
<rect x="541.80" y="94.08" width="1.60" height="4.6" rx="0.5" fill="#d8c44c"/>
<rect x="543.70" y="94.08" width="1.10" height="4.6" rx="0.5" fill="#40b0d8"/>
<rect x="375.60" y="101.66" width="170.70" height="5.60" fill="#efefef"/>
<line x1="375.60" y1="104.46" x2="546.30" y2="104.46" stroke="#8c8c8c" stroke-width="1.1"/>
<rect x="375.80" y="102.21" width="2.00" height="4.5" rx="0.4" fill="#d8c44c"/>
<rect x="381.00" y="102.21" width="2.20" height="4.5" rx="0.4" fill="#5aa452"/>
<rect x="386.60" y="102.21" width="1.40" height="4.5" rx="0.4" fill="#e8983c"/>
<rect x="400.00" y="102.21" width="1.80" height="4.5" rx="0.4" fill="#3aa9a2"/>
<rect x="402.10" y="102.21" width="2.00" height="4.5" rx="0.4" fill="#9a72c4"/>
<rect x="404.20" y="102.21" width="1.80" height="4.5" rx="0.4" fill="#d24a4a"/>
<rect x="406.10" y="102.21" width="1.50" height="4.5" rx="0.4" fill="#9a72c4"/>
<rect x="411.70" y="102.21" width="1.30" height="4.5" rx="0.4" fill="#c8aa78"/>
<rect x="415.10" y="102.21" width="2.00" height="4.5" rx="0.4" fill="#a47a52"/>
<rect x="417.20" y="102.21" width="2.20" height="4.5" rx="0.4" fill="#3aa9a2"/>
<rect x="419.50" y="102.21" width="1.80" height="4.5" rx="0.4" fill="#e8983c"/>
<rect x="421.60" y="102.21" width="1.50" height="4.5" rx="0.4" fill="#40b0d8"/>
<rect x="423.20" y="102.21" width="1.80" height="4.5" rx="0.4" fill="#d8c44c"/>
<rect x="425.20" y="102.21" width="2.00" height="4.5" rx="0.4" fill="#d8c44c"/>
<rect x="427.30" y="102.21" width="1.40" height="4.5" rx="0.4" fill="#4a7ad2"/>
<rect x="437.20" y="102.21" width="1.80" height="4.5" rx="0.4" fill="#8a8a9a"/>
<rect x="439.20" y="102.21" width="1.80" height="4.5" rx="0.4" fill="#d8c44c"/>
<rect x="441.20" y="102.21" width="0.80" height="4.5" rx="0.4" fill="#40b0d8"/>
<rect x="444.60" y="102.21" width="1.20" height="4.5" rx="0.4" fill="#d24a4a"/>
<rect x="448.60" y="102.21" width="1.50" height="4.5" rx="0.4" fill="#d8c44c"/>
<rect x="470.90" y="102.21" width="1.50" height="4.5" rx="0.4" fill="#a4a452"/>
<rect x="472.70" y="102.21" width="1.80" height="4.5" rx="0.4" fill="#a4a452"/>
<rect x="474.80" y="102.21" width="2.20" height="4.5" rx="0.4" fill="#d24a4a"/>
<rect x="477.20" y="102.21" width="2.20" height="4.5" rx="0.4" fill="#c8aa78"/>
<rect x="479.50" y="102.21" width="1.50" height="4.5" rx="0.4" fill="#d8c44c"/>
<rect x="481.10" y="102.21" width="1.20" height="4.5" rx="0.4" fill="#8a8a9a"/>
<rect x="482.50" y="102.21" width="2.20" height="4.5" rx="0.4" fill="#d24a4a"/>
<rect x="485.70" y="101.21" width="44.90" height="6.5" rx="0.6" fill="url(#cg)"/>
<text x="508.15" y="106.46" font-family="'Liberation Sans', Arial, sans-serif" font-size="5.8" text-anchor="middle" fill="#463030" textLength="33.00" lengthAdjust="spacingAndGlyphs" stroke="#463030" stroke-width="0.05">Cation_efflux</text>
<rect x="530.80" y="102.16" width="1.60" height="4.6" rx="0.5" fill="#a4a452"/>
<rect x="532.70" y="102.16" width="2.00" height="4.6" rx="0.5" fill="#9a72c4"/>
<rect x="535.00" y="102.16" width="1.60" height="4.6" rx="0.5" fill="#d8c44c"/>
<rect x="536.90" y="102.16" width="0.90" height="4.6" rx="0.5" fill="#d8c44c"/>
<rect x="541.80" y="102.16" width="2.00" height="4.6" rx="0.5" fill="#d8c44c"/>
<rect x="544.10" y="102.16" width="0.70" height="4.6" rx="0.5" fill="#c8aa78"/>
<rect x="375.60" y="109.74" width="170.70" height="5.60" fill="#efefef"/>
<line x1="375.60" y1="112.54" x2="546.30" y2="112.54" stroke="#8c8c8c" stroke-width="1.1"/>
<rect x="384.30" y="110.29" width="1.20" height="4.5" rx="0.4" fill="#5aa452"/>
<rect x="385.70" y="110.29" width="1.20" height="4.5" rx="0.4" fill="#a4a452"/>
<rect x="396.20" y="110.29" width="1.20" height="4.5" rx="0.4" fill="#a47a52"/>
<rect x="397.70" y="110.29" width="2.20" height="4.5" rx="0.4" fill="#3aa9a2"/>
<rect x="400.00" y="110.29" width="1.80" height="4.5" rx="0.4" fill="#4a7ad2"/>
<rect x="402.10" y="110.29" width="1.10" height="4.5" rx="0.4" fill="#9a72c4"/>
<rect x="405.00" y="110.29" width="2.00" height="4.5" rx="0.4" fill="#d24a4a"/>
<rect x="407.10" y="110.29" width="2.00" height="4.5" rx="0.4" fill="#4a7ad2"/>
<rect x="409.30" y="110.29" width="2.00" height="4.5" rx="0.4" fill="#4a7ad2"/>
<rect x="415.00" y="110.29" width="1.20" height="4.5" rx="0.4" fill="#40b0d8"/>
<rect x="416.30" y="110.29" width="2.00" height="4.5" rx="0.4" fill="#a4a452"/>
<rect x="419.30" y="110.29" width="2.20" height="4.5" rx="0.4" fill="#a4a452"/>
<rect x="421.70" y="110.29" width="1.20" height="4.5" rx="0.4" fill="#e8983c"/>
<rect x="423.00" y="110.29" width="1.20" height="4.5" rx="0.4" fill="#c8aa78"/>
<rect x="424.40" y="110.29" width="1.80" height="4.5" rx="0.4" fill="#9a72c4"/>
<rect x="426.30" y="110.29" width="0.50" height="4.5" rx="0.4" fill="#c8aa78"/>
<rect x="437.20" y="110.29" width="2.20" height="4.5" rx="0.4" fill="#c8aa78"/>
<rect x="439.50" y="110.29" width="2.00" height="4.5" rx="0.4" fill="#d24a4a"/>
<rect x="441.80" y="110.29" width="2.20" height="4.5" rx="0.4" fill="#e8983c"/>
<rect x="444.30" y="110.29" width="2.00" height="4.5" rx="0.4" fill="#40b0d8"/>
<rect x="446.40" y="110.29" width="2.00" height="4.5" rx="0.4" fill="#e8983c"/>
<rect x="448.70" y="110.29" width="0.80" height="4.5" rx="0.4" fill="#d24a4a"/>
<rect x="459.00" y="110.29" width="1.80" height="4.5" rx="0.4" fill="#e8983c"/>
<rect x="469.40" y="110.29" width="2.00" height="4.5" rx="0.4" fill="#8a8a9a"/>
<rect x="471.60" y="110.29" width="1.40" height="4.5" rx="0.4" fill="#9a72c4"/>
<rect x="473.90" y="109.29" width="56.70" height="6.5" rx="0.6" fill="url(#cg)"/>
<text x="502.25" y="114.54" font-family="'Liberation Sans', Arial, sans-serif" font-size="5.8" text-anchor="middle" fill="#463030" textLength="33.00" lengthAdjust="spacingAndGlyphs" stroke="#463030" stroke-width="0.05">Cation_efflux</text>
<rect x="530.80" y="110.24" width="2.00" height="4.6" rx="0.5" fill="#a4a452"/>
<rect x="533.10" y="110.24" width="1.60" height="4.6" rx="0.5" fill="#3aa9a2"/>
<rect x="535.00" y="110.24" width="1.20" height="4.6" rx="0.5" fill="#4a7ad2"/>
<rect x="536.50" y="110.24" width="2.00" height="4.6" rx="0.5" fill="#4a7ad2"/>
<rect x="538.80" y="110.24" width="1.60" height="4.6" rx="0.5" fill="#e8983c"/>
<rect x="540.70" y="110.24" width="2.00" height="4.6" rx="0.5" fill="#3aa9a2"/>
<rect x="543.00" y="110.24" width="1.20" height="4.6" rx="0.5" fill="#8a8a9a"/>
<rect x="544.50" y="110.24" width="1.60" height="4.6" rx="0.5" fill="#9a72c4"/>
<rect x="375.60" y="117.81" width="170.70" height="5.60" fill="#efefef"/>
<line x1="375.60" y1="120.61" x2="546.30" y2="120.61" stroke="#8c8c8c" stroke-width="1.1"/>
<rect x="391.00" y="118.36" width="2.20" height="4.5" rx="0.4" fill="#9a72c4"/>
<rect x="393.40" y="118.36" width="1.20" height="4.5" rx="0.4" fill="#5aa452"/>
<rect x="394.90" y="118.36" width="1.70" height="4.5" rx="0.4" fill="#3aa9a2"/>
<rect x="398.50" y="118.36" width="1.80" height="4.5" rx="0.4" fill="#4a7ad2"/>
<rect x="400.60" y="118.36" width="1.80" height="4.5" rx="0.4" fill="#40b0d8"/>
<rect x="402.50" y="118.36" width="1.20" height="4.5" rx="0.4" fill="#3aa9a2"/>
<rect x="405.00" y="118.36" width="2.20" height="4.5" rx="0.4" fill="#5aa452"/>
<rect x="407.50" y="118.36" width="2.20" height="4.5" rx="0.4" fill="#8a8a9a"/>
<rect x="409.80" y="118.36" width="2.20" height="4.5" rx="0.4" fill="#d24a4a"/>
<rect x="412.10" y="118.36" width="0.50" height="4.5" rx="0.4" fill="#8a8a9a"/>
<rect x="414.50" y="118.36" width="1.20" height="4.5" rx="0.4" fill="#3aa9a2"/>
<rect x="416.00" y="118.36" width="1.50" height="4.5" rx="0.4" fill="#3aa9a2"/>
<rect x="417.70" y="118.36" width="1.50" height="4.5" rx="0.4" fill="#d8c44c"/>
<rect x="419.50" y="118.36" width="1.80" height="4.5" rx="0.4" fill="#5aa452"/>
<rect x="421.60" y="118.36" width="1.20" height="4.5" rx="0.4" fill="#e8983c"/>
<rect x="423.00" y="118.36" width="1.20" height="4.5" rx="0.4" fill="#9a72c4"/>
<rect x="424.30" y="118.36" width="2.20" height="4.5" rx="0.4" fill="#4a7ad2"/>
<rect x="437.00" y="118.36" width="2.20" height="4.5" rx="0.4" fill="#8a8a9a"/>
<rect x="439.40" y="118.36" width="2.20" height="4.5" rx="0.4" fill="#3aa9a2"/>
<rect x="441.80" y="118.36" width="1.50" height="4.5" rx="0.4" fill="#8a8a9a"/>
<rect x="443.50" y="118.36" width="1.20" height="4.5" rx="0.4" fill="#4a7ad2"/>
<rect x="444.80" y="118.36" width="0.90" height="4.5" rx="0.4" fill="#c8aa78"/>
<rect x="448.60" y="118.36" width="1.60" height="4.5" rx="0.4" fill="#c8aa78"/>
<rect x="458.00" y="118.36" width="1.20" height="4.5" rx="0.4" fill="#d24a4a"/>
<rect x="459.50" y="118.36" width="1.30" height="4.5" rx="0.4" fill="#a47a52"/>
<rect x="469.40" y="118.36" width="1.80" height="4.5" rx="0.4" fill="#40b0d8"/>
<rect x="471.50" y="118.36" width="1.50" height="4.5" rx="0.4" fill="#a47a52"/>
<rect x="473.90" y="117.36" width="56.70" height="6.5" rx="0.6" fill="url(#cg)"/>
<text x="502.25" y="122.61" font-family="'Liberation Sans', Arial, sans-serif" font-size="5.8" text-anchor="middle" fill="#463030" textLength="33.00" lengthAdjust="spacingAndGlyphs" stroke="#463030" stroke-width="0.05">Cation_efflux</text>
<rect x="530.60" y="118.61" width="1.40" height="4.00" fill="#7a4ab0"/>
<rect x="375.60" y="125.89" width="170.70" height="5.60" fill="#efefef"/>
<line x1="375.60" y1="128.69" x2="546.30" y2="128.69" stroke="#8c8c8c" stroke-width="1.1"/>
<rect x="391.00" y="126.44" width="1.20" height="4.5" rx="0.4" fill="#3aa9a2"/>
<rect x="392.50" y="126.44" width="2.00" height="4.5" rx="0.4" fill="#5aa452"/>
<rect x="394.60" y="126.44" width="1.50" height="4.5" rx="0.4" fill="#8a8a9a"/>
<rect x="396.20" y="126.44" width="2.00" height="4.5" rx="0.4" fill="#d24a4a"/>
<rect x="401.30" y="126.44" width="1.90" height="4.5" rx="0.4" fill="#4a7ad2"/>
<rect x="407.90" y="126.44" width="1.00" height="4.5" rx="0.4" fill="#a4a452"/>
<rect x="410.70" y="126.44" width="1.50" height="4.5" rx="0.4" fill="#40b0d8"/>
<rect x="414.50" y="126.44" width="1.20" height="4.5" rx="0.4" fill="#3aa9a2"/>
<rect x="415.80" y="126.44" width="2.20" height="4.5" rx="0.4" fill="#a47a52"/>
<rect x="418.30" y="126.44" width="1.50" height="4.5" rx="0.4" fill="#8a8a9a"/>
<rect x="419.90" y="126.44" width="2.20" height="4.5" rx="0.4" fill="#4a7ad2"/>
<rect x="422.30" y="126.44" width="2.20" height="4.5" rx="0.4" fill="#d8c44c"/>
<rect x="424.70" y="126.44" width="1.50" height="4.5" rx="0.4" fill="#c8aa78"/>
<rect x="437.00" y="126.44" width="2.20" height="4.5" rx="0.4" fill="#d8c44c"/>
<rect x="439.40" y="126.44" width="2.00" height="4.5" rx="0.4" fill="#8a8a9a"/>
<rect x="441.50" y="126.44" width="2.00" height="4.5" rx="0.4" fill="#c8aa78"/>
<rect x="443.70" y="126.44" width="1.10" height="4.5" rx="0.4" fill="#d24a4a"/>
<rect x="448.60" y="126.44" width="1.60" height="4.5" rx="0.4" fill="#d24a4a"/>
<rect x="459.90" y="126.44" width="1.20" height="4.5" rx="0.4" fill="#40b0d8"/>
<rect x="469.40" y="126.44" width="1.80" height="4.5" rx="0.4" fill="#d24a4a"/>
<rect x="471.40" y="126.44" width="1.60" height="4.5" rx="0.4" fill="#a4a452"/>
<rect x="473.90" y="125.44" width="52.70" height="6.5" rx="0.6" fill="url(#cg)"/>
<text x="500.25" y="130.69" font-family="'Liberation Sans', Arial, sans-serif" font-size="5.8" text-anchor="middle" fill="#463030" textLength="33.00" lengthAdjust="spacingAndGlyphs" stroke="#463030" stroke-width="0.05">Cation_efflux</text>
<rect x="526.60" y="126.69" width="1.40" height="4.00" fill="#3aa9a2"/>
<rect x="375.60" y="133.97" width="170.70" height="5.60" fill="#efefef"/>
<line x1="375.60" y1="136.77" x2="546.30" y2="136.77" stroke="#8c8c8c" stroke-width="1.1"/>
<rect x="375.80" y="134.52" width="1.00" height="4.5" rx="0.4" fill="#8a8a9a"/>
<rect x="391.00" y="134.52" width="1.80" height="4.5" rx="0.4" fill="#a4a452"/>
<rect x="393.00" y="134.52" width="1.80" height="4.5" rx="0.4" fill="#3aa9a2"/>
<rect x="395.00" y="134.52" width="1.50" height="4.5" rx="0.4" fill="#8a8a9a"/>
<rect x="398.50" y="134.52" width="1.80" height="4.5" rx="0.4" fill="#c8aa78"/>
<rect x="400.50" y="134.52" width="2.20" height="4.5" rx="0.4" fill="#a4a452"/>
<rect x="402.90" y="134.52" width="2.00" height="4.5" rx="0.4" fill="#40b0d8"/>
<rect x="405.00" y="134.52" width="1.50" height="4.5" rx="0.4" fill="#8a8a9a"/>
<rect x="406.80" y="134.52" width="2.20" height="4.5" rx="0.4" fill="#e8983c"/>
<rect x="409.30" y="134.52" width="0.50" height="4.5" rx="0.4" fill="#5aa452"/>
<rect x="414.50" y="134.52" width="1.50" height="4.5" rx="0.4" fill="#d8c44c"/>
<rect x="416.20" y="134.52" width="2.00" height="4.5" rx="0.4" fill="#3aa9a2"/>
<rect x="418.50" y="134.52" width="2.00" height="4.5" rx="0.4" fill="#40b0d8"/>
<rect x="420.70" y="134.52" width="1.50" height="4.5" rx="0.4" fill="#d24a4a"/>
<rect x="422.40" y="134.52" width="1.20" height="4.5" rx="0.4" fill="#5aa452"/>
<rect x="423.70" y="134.52" width="2.00" height="4.5" rx="0.4" fill="#40b0d8"/>
<rect x="425.90" y="134.52" width="0.90" height="4.5" rx="0.4" fill="#9a72c4"/>
<rect x="437.00" y="134.52" width="1.20" height="4.5" rx="0.4" fill="#3aa9a2"/>
<rect x="438.50" y="134.52" width="1.80" height="4.5" rx="0.4" fill="#a47a52"/>
<rect x="440.50" y="134.52" width="1.50" height="4.5" rx="0.4" fill="#e8983c"/>
<rect x="442.10" y="134.52" width="1.50" height="4.5" rx="0.4" fill="#e8983c"/>
<rect x="443.70" y="134.52" width="1.80" height="4.5" rx="0.4" fill="#9a72c4"/>
<rect x="448.60" y="134.52" width="1.60" height="4.5" rx="0.4" fill="#c8aa78"/>
<rect x="458.00" y="134.52" width="1.80" height="4.5" rx="0.4" fill="#5aa452"/>
<rect x="459.90" y="134.52" width="0.90" height="4.5" rx="0.4" fill="#a47a52"/>
<rect x="469.40" y="134.52" width="2.00" height="4.5" rx="0.4" fill="#5aa452"/>
<rect x="471.70" y="134.52" width="1.20" height="4.5" rx="0.4" fill="#a47a52"/>
<rect x="473.90" y="133.52" width="56.70" height="6.5" rx="0.6" fill="url(#cg)"/>
<text x="502.25" y="138.77" font-family="'Liberation Sans', Arial, sans-serif" font-size="5.8" text-anchor="middle" fill="#463030" textLength="33.00" lengthAdjust="spacingAndGlyphs" stroke="#463030" stroke-width="0.05">Cation_efflux</text>
<rect x="530.60" y="134.77" width="1.40" height="4.00" fill="#7a4ab0"/>
<rect x="375.60" y="142.05" width="170.70" height="5.60" fill="#efefef"/>
<line x1="375.60" y1="144.85" x2="546.30" y2="144.85" stroke="#8c8c8c" stroke-width="1.1"/>
<rect x="375.80" y="142.60" width="1.00" height="4.5" rx="0.4" fill="#4a7ad2"/>
<rect x="391.00" y="142.60" width="1.80" height="4.5" rx="0.4" fill="#5aa452"/>
<rect x="393.10" y="142.60" width="2.20" height="4.5" rx="0.4" fill="#d24a4a"/>
<rect x="395.50" y="142.60" width="1.50" height="4.5" rx="0.4" fill="#d8c44c"/>
<rect x="397.20" y="142.60" width="1.20" height="4.5" rx="0.4" fill="#9a72c4"/>
<rect x="398.50" y="142.60" width="2.20" height="4.5" rx="0.4" fill="#a4a452"/>
<rect x="400.90" y="142.60" width="1.50" height="4.5" rx="0.4" fill="#5aa452"/>
<rect x="402.70" y="142.60" width="2.00" height="4.5" rx="0.4" fill="#a4a452"/>
<rect x="404.80" y="142.60" width="2.20" height="4.5" rx="0.4" fill="#5aa452"/>
<rect x="407.10" y="142.60" width="1.80" height="4.5" rx="0.4" fill="#3aa9a2"/>
<rect x="409.00" y="142.60" width="0.80" height="4.5" rx="0.4" fill="#4a7ad2"/>
<rect x="411.70" y="142.60" width="1.50" height="4.5" rx="0.4" fill="#a4a452"/>
<rect x="413.40" y="142.60" width="2.20" height="4.5" rx="0.4" fill="#4a7ad2"/>
<rect x="415.80" y="142.60" width="1.20" height="4.5" rx="0.4" fill="#9a72c4"/>
<rect x="417.20" y="142.60" width="1.20" height="4.5" rx="0.4" fill="#c8aa78"/>
<rect x="418.50" y="142.60" width="2.00" height="4.5" rx="0.4" fill="#8a8a9a"/>
<rect x="420.70" y="142.60" width="2.20" height="4.5" rx="0.4" fill="#3aa9a2"/>
<rect x="423.10" y="142.60" width="1.20" height="4.5" rx="0.4" fill="#d8c44c"/>
<rect x="424.60" y="142.60" width="1.20" height="4.5" rx="0.4" fill="#c8aa78"/>
<rect x="426.10" y="142.60" width="0.70" height="4.5" rx="0.4" fill="#c8aa78"/>
<rect x="437.00" y="142.60" width="2.00" height="4.5" rx="0.4" fill="#c8aa78"/>
<rect x="439.30" y="142.60" width="1.20" height="4.5" rx="0.4" fill="#d8c44c"/>
<rect x="440.80" y="142.60" width="2.00" height="4.5" rx="0.4" fill="#4a7ad2"/>
<rect x="443.10" y="142.60" width="1.80" height="4.5" rx="0.4" fill="#4a7ad2"/>
<rect x="445.00" y="142.60" width="1.70" height="4.5" rx="0.4" fill="#3aa9a2"/>
<rect x="458.00" y="142.60" width="2.00" height="4.5" rx="0.4" fill="#40b0d8"/>
<rect x="460.30" y="142.60" width="0.50" height="4.5" rx="0.4" fill="#c8aa78"/>
<rect x="468.40" y="142.60" width="1.50" height="4.5" rx="0.4" fill="#c8aa78"/>
<rect x="470.10" y="142.60" width="1.80" height="4.5" rx="0.4" fill="#d24a4a"/>
<rect x="472.20" y="142.60" width="2.00" height="4.5" rx="0.4" fill="#d24a4a"/>
<rect x="474.50" y="142.60" width="1.50" height="4.5" rx="0.4" fill="#a4a452"/>
<rect x="476.20" y="142.60" width="1.20" height="4.5" rx="0.4" fill="#a47a52"/>
<rect x="477.50" y="142.60" width="1.50" height="4.5" rx="0.4" fill="#d24a4a"/>
<rect x="479.80" y="141.60" width="50.80" height="6.5" rx="0.6" fill="url(#cg)"/>
<text x="505.20" y="146.85" font-family="'Liberation Sans', Arial, sans-serif" font-size="5.8" text-anchor="middle" fill="#463030" textLength="33.00" lengthAdjust="spacingAndGlyphs" stroke="#463030" stroke-width="0.05">Cation_efflux</text>
<rect x="530.60" y="142.85" width="1.40" height="4.00" fill="#3aa9a2"/>
<rect x="375.60" y="150.13" width="170.70" height="5.60" fill="#efefef"/>
<line x1="375.60" y1="152.93" x2="546.30" y2="152.93" stroke="#8c8c8c" stroke-width="1.1"/>
<rect x="375.80" y="150.68" width="1.00" height="4.5" rx="0.4" fill="#4a7ad2"/>
<rect x="402.20" y="150.68" width="1.50" height="4.5" rx="0.4" fill="#5aa452"/>
<rect x="403.80" y="150.68" width="1.50" height="4.5" rx="0.4" fill="#5aa452"/>
<rect x="405.60" y="150.68" width="1.40" height="4.5" rx="0.4" fill="#e8983c"/>
<rect x="411.70" y="150.68" width="1.80" height="4.5" rx="0.4" fill="#a47a52"/>
<rect x="413.60" y="150.68" width="2.20" height="4.5" rx="0.4" fill="#5aa452"/>
<rect x="415.90" y="150.68" width="2.20" height="4.5" rx="0.4" fill="#8a8a9a"/>
<rect x="418.20" y="150.68" width="2.20" height="4.5" rx="0.4" fill="#8a8a9a"/>
<rect x="420.70" y="150.68" width="1.20" height="4.5" rx="0.4" fill="#d24a4a"/>
<rect x="422.00" y="150.68" width="1.80" height="4.5" rx="0.4" fill="#e8983c"/>
<rect x="423.90" y="150.68" width="2.20" height="4.5" rx="0.4" fill="#3aa9a2"/>
<rect x="426.20" y="150.68" width="0.60" height="4.5" rx="0.4" fill="#9a72c4"/>
<rect x="437.20" y="150.68" width="2.00" height="4.5" rx="0.4" fill="#d8c44c"/>
<rect x="439.40" y="150.68" width="1.50" height="4.5" rx="0.4" fill="#c8aa78"/>
<rect x="441.20" y="150.68" width="2.00" height="4.5" rx="0.4" fill="#3aa9a2"/>
<rect x="443.40" y="150.68" width="2.00" height="4.5" rx="0.4" fill="#5aa452"/>
<rect x="445.60" y="150.68" width="1.20" height="4.5" rx="0.4" fill="#a4a452"/>
<rect x="446.90" y="150.68" width="2.20" height="4.5" rx="0.4" fill="#d24a4a"/>
<rect x="449.30" y="150.68" width="1.20" height="4.5" rx="0.4" fill="#a4a452"/>
<rect x="450.70" y="150.68" width="0.70" height="4.5" rx="0.4" fill="#e8983c"/>
<rect x="458.00" y="150.68" width="1.80" height="4.5" rx="0.4" fill="#a47a52"/>
<rect x="460.10" y="150.68" width="2.20" height="4.5" rx="0.4" fill="#a4a452"/>
<rect x="462.40" y="150.68" width="1.20" height="4.5" rx="0.4" fill="#a47a52"/>
<rect x="463.70" y="150.68" width="1.80" height="4.5" rx="0.4" fill="#5aa452"/>
<rect x="465.60" y="150.68" width="2.20" height="4.5" rx="0.4" fill="#d8c44c"/>
<rect x="468.00" y="150.68" width="1.80" height="4.5" rx="0.4" fill="#9a72c4"/>
<rect x="470.00" y="150.68" width="1.80" height="4.5" rx="0.4" fill="#e8983c"/>
<rect x="472.10" y="150.68" width="1.20" height="4.5" rx="0.4" fill="#8a8a9a"/>
<rect x="473.90" y="149.68" width="56.70" height="6.5" rx="0.6" fill="url(#cg)"/>
<text x="502.25" y="154.93" font-family="'Liberation Sans', Arial, sans-serif" font-size="5.8" text-anchor="middle" fill="#463030" textLength="33.00" lengthAdjust="spacingAndGlyphs" stroke="#463030" stroke-width="0.05">Cation_efflux</text>
<rect x="530.60" y="150.93" width="1.40" height="4.00" fill="#7a4ab0"/>
<rect x="375.60" y="158.20" width="170.70" height="5.60" fill="#efefef"/>
<line x1="375.60" y1="161.00" x2="546.30" y2="161.00" stroke="#8c8c8c" stroke-width="1.1"/>
<rect x="375.80" y="158.75" width="1.00" height="4.5" rx="0.4" fill="#c8aa78"/>
<rect x="424.00" y="158.75" width="1.20" height="4.5" rx="0.4" fill="#c8aa78"/>
<rect x="425.40" y="158.75" width="1.20" height="4.5" rx="0.4" fill="#d8c44c"/>
<rect x="437.00" y="158.75" width="1.80" height="4.5" rx="0.4" fill="#d24a4a"/>
<rect x="439.10" y="158.75" width="2.20" height="4.5" rx="0.4" fill="#3aa9a2"/>
<rect x="441.40" y="158.75" width="1.80" height="4.5" rx="0.4" fill="#9a72c4"/>
<rect x="443.40" y="158.75" width="1.20" height="4.5" rx="0.4" fill="#40b0d8"/>
<rect x="444.70" y="158.75" width="1.80" height="4.5" rx="0.4" fill="#3aa9a2"/>
<rect x="446.70" y="158.75" width="2.20" height="4.5" rx="0.4" fill="#e8983c"/>
<rect x="449.20" y="158.75" width="2.00" height="4.5" rx="0.4" fill="#e8983c"/>
<rect x="451.40" y="158.75" width="2.00" height="4.5" rx="0.4" fill="#c8aa78"/>
<rect x="453.70" y="158.75" width="1.20" height="4.5" rx="0.4" fill="#40b0d8"/>
<rect x="455.10" y="158.75" width="2.20" height="4.5" rx="0.4" fill="#5aa452"/>
<rect x="457.50" y="158.75" width="1.50" height="4.5" rx="0.4" fill="#a4a452"/>
<rect x="459.10" y="158.75" width="2.20" height="4.5" rx="0.4" fill="#a4a452"/>
<rect x="461.40" y="158.75" width="2.20" height="4.5" rx="0.4" fill="#c8aa78"/>
<rect x="463.70" y="158.75" width="1.80" height="4.5" rx="0.4" fill="#4a7ad2"/>
<rect x="465.70" y="158.75" width="2.00" height="4.5" rx="0.4" fill="#c8aa78"/>
<rect x="467.90" y="158.75" width="1.50" height="4.5" rx="0.4" fill="#c8aa78"/>
<rect x="469.60" y="158.75" width="1.80" height="4.5" rx="0.4" fill="#9a72c4"/>
<rect x="471.70" y="158.75" width="2.10" height="4.5" rx="0.4" fill="#3aa9a2"/>
<rect x="473.90" y="157.75" width="56.70" height="6.5" rx="0.6" fill="url(#cg)"/>
<text x="502.25" y="163.00" font-family="'Liberation Sans', Arial, sans-serif" font-size="5.8" text-anchor="middle" fill="#463030" textLength="33.00" lengthAdjust="spacingAndGlyphs" stroke="#463030" stroke-width="0.05">Cation_efflux</text>
<rect x="530.60" y="159.00" width="1.40" height="4.00" fill="#3aa9a2"/>
<rect x="375.60" y="166.28" width="170.70" height="5.60" fill="#efefef"/>
<line x1="375.60" y1="169.08" x2="546.30" y2="169.08" stroke="#8c8c8c" stroke-width="1.1"/>
<rect x="407.70" y="166.83" width="1.10" height="4.5" rx="0.4" fill="#c8aa78"/>
<rect x="410.70" y="166.83" width="2.00" height="4.5" rx="0.4" fill="#8a8a9a"/>
<rect x="412.80" y="166.83" width="2.20" height="4.5" rx="0.4" fill="#d24a4a"/>
<rect x="415.20" y="166.83" width="1.20" height="4.5" rx="0.4" fill="#4a7ad2"/>
<rect x="416.60" y="166.83" width="1.50" height="4.5" rx="0.4" fill="#3aa9a2"/>
<rect x="418.40" y="166.83" width="1.50" height="4.5" rx="0.4" fill="#5aa452"/>
<rect x="420.10" y="166.83" width="1.20" height="4.5" rx="0.4" fill="#4a7ad2"/>
<rect x="421.50" y="166.83" width="2.20" height="4.5" rx="0.4" fill="#c8aa78"/>
<rect x="423.90" y="166.83" width="2.20" height="4.5" rx="0.4" fill="#a47a52"/>
<rect x="426.30" y="166.83" width="0.50" height="4.5" rx="0.4" fill="#d24a4a"/>
<rect x="437.00" y="166.83" width="2.20" height="4.5" rx="0.4" fill="#e8983c"/>
<rect x="439.50" y="166.83" width="2.00" height="4.5" rx="0.4" fill="#3aa9a2"/>
<rect x="441.70" y="166.83" width="2.00" height="4.5" rx="0.4" fill="#e8983c"/>
<rect x="443.80" y="166.83" width="1.50" height="4.5" rx="0.4" fill="#4a7ad2"/>
<rect x="445.40" y="166.83" width="1.20" height="4.5" rx="0.4" fill="#9a72c4"/>
<rect x="446.90" y="166.83" width="2.00" height="4.5" rx="0.4" fill="#d24a4a"/>
<rect x="449.00" y="166.83" width="1.20" height="4.5" rx="0.4" fill="#e8983c"/>
<rect x="450.40" y="166.83" width="1.50" height="4.5" rx="0.4" fill="#40b0d8"/>
<rect x="452.20" y="166.83" width="1.20" height="4.5" rx="0.4" fill="#9a72c4"/>
<rect x="453.70" y="166.83" width="1.20" height="4.5" rx="0.4" fill="#3aa9a2"/>
<rect x="455.20" y="166.83" width="1.80" height="4.5" rx="0.4" fill="#3aa9a2"/>
<rect x="457.30" y="166.83" width="2.20" height="4.5" rx="0.4" fill="#a4a452"/>
<rect x="459.80" y="166.83" width="2.20" height="4.5" rx="0.4" fill="#4a7ad2"/>
<rect x="462.10" y="166.83" width="1.20" height="4.5" rx="0.4" fill="#e8983c"/>
<rect x="463.50" y="166.83" width="1.20" height="4.5" rx="0.4" fill="#4a7ad2"/>
<rect x="465.00" y="166.83" width="2.00" height="4.5" rx="0.4" fill="#4a7ad2"/>
<rect x="467.20" y="166.83" width="2.20" height="4.5" rx="0.4" fill="#5aa452"/>
<rect x="469.70" y="166.83" width="2.20" height="4.5" rx="0.4" fill="#a47a52"/>
<rect x="472.10" y="166.83" width="1.50" height="4.5" rx="0.4" fill="#d8c44c"/>
<rect x="473.90" y="165.83" width="56.70" height="6.5" rx="0.6" fill="url(#cg)"/>
<text x="502.25" y="171.08" font-family="'Liberation Sans', Arial, sans-serif" font-size="5.8" text-anchor="middle" fill="#463030" textLength="33.00" lengthAdjust="spacingAndGlyphs" stroke="#463030" stroke-width="0.05">Cation_efflux</text>
<rect x="530.60" y="167.08" width="1.40" height="4.00" fill="#3aa9a2"/>
<rect x="375.60" y="174.36" width="170.70" height="5.60" fill="#efefef"/>
<line x1="375.60" y1="177.16" x2="546.30" y2="177.16" stroke="#8c8c8c" stroke-width="1.1"/>
<rect x="375.80" y="174.91" width="1.00" height="4.5" rx="0.4" fill="#4a7ad2"/>
<rect x="385.20" y="174.91" width="1.20" height="4.5" rx="0.4" fill="#5aa452"/>
<rect x="386.70" y="174.91" width="1.50" height="4.5" rx="0.4" fill="#a4a452"/>
<rect x="388.30" y="174.91" width="1.20" height="4.5" rx="0.4" fill="#5aa452"/>
<rect x="389.60" y="174.91" width="1.20" height="4.5" rx="0.4" fill="#d24a4a"/>
<rect x="393.70" y="174.91" width="1.50" height="4.5" rx="0.4" fill="#a4a452"/>
<rect x="395.50" y="174.91" width="2.20" height="4.5" rx="0.4" fill="#a47a52"/>
<rect x="397.90" y="174.91" width="1.80" height="4.5" rx="0.4" fill="#d8c44c"/>
<rect x="399.80" y="174.91" width="1.80" height="4.5" rx="0.4" fill="#d24a4a"/>
<rect x="401.80" y="174.91" width="1.50" height="4.5" rx="0.4" fill="#d24a4a"/>
<rect x="403.50" y="174.91" width="1.20" height="4.5" rx="0.4" fill="#d8c44c"/>
<rect x="405.00" y="174.91" width="1.50" height="4.5" rx="0.4" fill="#a47a52"/>
<rect x="406.70" y="174.91" width="1.80" height="4.5" rx="0.4" fill="#9a72c4"/>
<rect x="410.70" y="174.91" width="2.20" height="4.5" rx="0.4" fill="#3aa9a2"/>
<rect x="413.20" y="174.91" width="2.20" height="4.5" rx="0.4" fill="#e8983c"/>
<rect x="415.60" y="174.91" width="1.80" height="4.5" rx="0.4" fill="#4a7ad2"/>
<rect x="417.50" y="174.91" width="2.00" height="4.5" rx="0.4" fill="#9a72c4"/>
<rect x="419.60" y="174.91" width="2.00" height="4.5" rx="0.4" fill="#8a8a9a"/>
<rect x="421.70" y="174.91" width="1.20" height="4.5" rx="0.4" fill="#3aa9a2"/>
<rect x="423.10" y="174.91" width="1.20" height="4.5" rx="0.4" fill="#d24a4a"/>
<rect x="424.40" y="174.91" width="1.20" height="4.5" rx="0.4" fill="#d8c44c"/>
<rect x="425.80" y="174.91" width="1.00" height="4.5" rx="0.4" fill="#5aa452"/>
<rect x="437.00" y="174.91" width="1.20" height="4.5" rx="0.4" fill="#d8c44c"/>
<rect x="438.40" y="174.91" width="1.20" height="4.5" rx="0.4" fill="#4a7ad2"/>
<rect x="439.90" y="174.91" width="1.20" height="4.5" rx="0.4" fill="#40b0d8"/>
<rect x="441.40" y="174.91" width="2.20" height="4.5" rx="0.4" fill="#c8aa78"/>
<rect x="443.80" y="174.91" width="2.00" height="4.5" rx="0.4" fill="#5aa452"/>
<rect x="446.10" y="174.91" width="1.50" height="4.5" rx="0.4" fill="#d8c44c"/>
<rect x="447.70" y="174.91" width="1.50" height="4.5" rx="0.4" fill="#d8c44c"/>
<rect x="454.00" y="174.91" width="2.00" height="4.5" rx="0.4" fill="#8a8a9a"/>
<rect x="456.10" y="174.91" width="1.80" height="4.5" rx="0.4" fill="#e8983c"/>
<rect x="458.20" y="174.91" width="1.80" height="4.5" rx="0.4" fill="#e8983c"/>
<rect x="460.30" y="174.91" width="1.50" height="4.5" rx="0.4" fill="#a4a452"/>
<rect x="461.90" y="174.91" width="1.50" height="4.5" rx="0.4" fill="#4a7ad2"/>
<rect x="463.70" y="174.91" width="2.00" height="4.5" rx="0.4" fill="#8a8a9a"/>
<rect x="465.80" y="174.91" width="1.80" height="4.5" rx="0.4" fill="#e8983c"/>
<rect x="467.70" y="174.91" width="1.80" height="4.5" rx="0.4" fill="#d8c44c"/>
<rect x="469.60" y="174.91" width="1.50" height="4.5" rx="0.4" fill="#d8c44c"/>
<rect x="471.40" y="174.91" width="2.00" height="4.5" rx="0.4" fill="#c8aa78"/>
<rect x="473.90" y="173.91" width="56.70" height="6.5" rx="0.6" fill="url(#cg)"/>
<text x="502.25" y="179.16" font-family="'Liberation Sans', Arial, sans-serif" font-size="5.8" text-anchor="middle" fill="#463030" textLength="33.00" lengthAdjust="spacingAndGlyphs" stroke="#463030" stroke-width="0.05">Cation_efflux</text>
<rect x="530.60" y="175.16" width="1.40" height="4.00" fill="#4a7ad2"/>
<rect x="375.60" y="182.44" width="170.70" height="5.60" fill="#efefef"/>
<line x1="375.60" y1="185.24" x2="546.30" y2="185.24" stroke="#8c8c8c" stroke-width="1.1"/>
<rect x="375.80" y="182.99" width="1.00" height="4.5" rx="0.4" fill="#a4a452"/>
<rect x="386.00" y="182.99" width="1.50" height="4.5" rx="0.4" fill="#9a72c4"/>
<rect x="387.60" y="182.99" width="2.00" height="4.5" rx="0.4" fill="#5aa452"/>
<rect x="393.70" y="182.99" width="2.00" height="4.5" rx="0.4" fill="#d8c44c"/>
<rect x="395.80" y="182.99" width="1.80" height="4.5" rx="0.4" fill="#a4a452"/>
<rect x="397.80" y="182.99" width="1.20" height="4.5" rx="0.4" fill="#a4a452"/>
<rect x="399.20" y="182.99" width="1.20" height="4.5" rx="0.4" fill="#4a7ad2"/>
<rect x="400.50" y="182.99" width="2.20" height="4.5" rx="0.4" fill="#8a8a9a"/>
<rect x="402.80" y="182.99" width="2.00" height="4.5" rx="0.4" fill="#d8c44c"/>
<rect x="405.00" y="182.99" width="1.50" height="4.5" rx="0.4" fill="#a4a452"/>
<rect x="406.80" y="182.99" width="1.20" height="4.5" rx="0.4" fill="#c8aa78"/>
<rect x="408.20" y="182.99" width="0.70" height="4.5" rx="0.4" fill="#5aa452"/>
<rect x="410.70" y="182.99" width="1.80" height="4.5" rx="0.4" fill="#9a72c4"/>
<rect x="412.60" y="182.99" width="2.00" height="4.5" rx="0.4" fill="#d8c44c"/>
<rect x="414.80" y="182.99" width="2.00" height="4.5" rx="0.4" fill="#a4a452"/>
<rect x="417.00" y="182.99" width="2.00" height="4.5" rx="0.4" fill="#3aa9a2"/>
<rect x="419.20" y="182.99" width="1.20" height="4.5" rx="0.4" fill="#c8aa78"/>
<rect x="420.60" y="182.99" width="1.20" height="4.5" rx="0.4" fill="#d24a4a"/>
<rect x="422.10" y="182.99" width="1.20" height="4.5" rx="0.4" fill="#d24a4a"/>
<rect x="423.60" y="182.99" width="2.20" height="4.5" rx="0.4" fill="#4a7ad2"/>
<rect x="425.90" y="182.99" width="0.90" height="4.5" rx="0.4" fill="#4a7ad2"/>
<rect x="437.00" y="182.99" width="2.00" height="4.5" rx="0.4" fill="#d8c44c"/>
<rect x="439.30" y="182.99" width="1.50" height="4.5" rx="0.4" fill="#5aa452"/>
<rect x="441.10" y="182.99" width="2.00" height="4.5" rx="0.4" fill="#d8c44c"/>
<rect x="443.20" y="182.99" width="2.00" height="4.5" rx="0.4" fill="#9a72c4"/>
<rect x="445.30" y="182.99" width="1.80" height="4.5" rx="0.4" fill="#c8aa78"/>
<rect x="447.20" y="182.99" width="1.80" height="4.5" rx="0.4" fill="#d24a4a"/>
<rect x="449.10" y="182.99" width="2.00" height="4.5" rx="0.4" fill="#9a72c4"/>
<rect x="451.30" y="182.99" width="2.00" height="4.5" rx="0.4" fill="#4a7ad2"/>
<rect x="455.20" y="182.99" width="1.20" height="4.5" rx="0.4" fill="#e8983c"/>
<rect x="456.60" y="182.99" width="1.20" height="4.5" rx="0.4" fill="#a4a452"/>
<rect x="458.00" y="182.99" width="1.50" height="4.5" rx="0.4" fill="#3aa9a2"/>
<rect x="459.60" y="182.99" width="1.20" height="4.5" rx="0.4" fill="#d8c44c"/>
<rect x="460.90" y="182.99" width="2.20" height="4.5" rx="0.4" fill="#3aa9a2"/>
<rect x="463.30" y="182.99" width="2.20" height="4.5" rx="0.4" fill="#8a8a9a"/>
<rect x="465.70" y="182.99" width="1.20" height="4.5" rx="0.4" fill="#4a7ad2"/>
<rect x="467.20" y="182.99" width="1.20" height="4.5" rx="0.4" fill="#d24a4a"/>
<rect x="468.70" y="182.99" width="2.00" height="4.5" rx="0.4" fill="#9a72c4"/>
<rect x="470.90" y="182.99" width="1.80" height="4.5" rx="0.4" fill="#a4a452"/>
<rect x="473.00" y="182.99" width="0.80" height="4.5" rx="0.4" fill="#d8c44c"/>
<rect x="473.90" y="181.99" width="56.70" height="6.5" rx="0.6" fill="url(#cg)"/>
<text x="502.25" y="187.24" font-family="'Liberation Sans', Arial, sans-serif" font-size="5.8" text-anchor="middle" fill="#463030" textLength="33.00" lengthAdjust="spacingAndGlyphs" stroke="#463030" stroke-width="0.05">Cation_efflux</text>
<rect x="530.60" y="183.24" width="1.40" height="4.00" fill="#40b0d8"/>
<rect x="375.60" y="190.52" width="170.70" height="5.60" fill="#efefef"/>
<line x1="375.60" y1="193.32" x2="546.30" y2="193.32" stroke="#8c8c8c" stroke-width="1.1"/>
<rect x="375.80" y="191.07" width="1.50" height="4.5" rx="0.4" fill="#5aa452"/>
<rect x="377.50" y="191.07" width="1.50" height="4.5" rx="0.4" fill="#c8aa78"/>
<rect x="379.10" y="191.07" width="1.80" height="4.5" rx="0.4" fill="#d24a4a"/>
<rect x="381.00" y="191.07" width="1.50" height="4.5" rx="0.4" fill="#d8c44c"/>
<rect x="382.80" y="191.07" width="2.00" height="4.5" rx="0.4" fill="#8a8a9a"/>
<rect x="384.90" y="191.07" width="2.00" height="4.5" rx="0.4" fill="#a47a52"/>
<rect x="387.20" y="191.07" width="1.20" height="4.5" rx="0.4" fill="#c8aa78"/>
<rect x="388.70" y="191.07" width="2.20" height="4.5" rx="0.4" fill="#d24a4a"/>
<rect x="391.00" y="191.07" width="1.20" height="4.5" rx="0.4" fill="#5aa452"/>
<rect x="392.50" y="191.07" width="1.20" height="4.5" rx="0.4" fill="#8a8a9a"/>
<rect x="393.80" y="191.07" width="2.00" height="4.5" rx="0.4" fill="#4a7ad2"/>
<rect x="396.10" y="191.07" width="2.20" height="4.5" rx="0.4" fill="#e8983c"/>
<rect x="398.40" y="191.07" width="1.80" height="4.5" rx="0.4" fill="#d8c44c"/>
<rect x="400.40" y="191.07" width="1.80" height="4.5" rx="0.4" fill="#e8983c"/>
<rect x="402.40" y="191.07" width="1.60" height="4.5" rx="0.4" fill="#d8c44c"/>
<rect x="407.00" y="191.07" width="1.80" height="4.5" rx="0.4" fill="#a47a52"/>
<rect x="409.00" y="191.07" width="1.80" height="4.5" rx="0.4" fill="#5aa452"/>
<rect x="411.00" y="191.07" width="2.00" height="4.5" rx="0.4" fill="#4a7ad2"/>
<rect x="413.30" y="191.07" width="1.20" height="4.5" rx="0.4" fill="#40b0d8"/>
<rect x="414.70" y="191.07" width="1.20" height="4.5" rx="0.4" fill="#d24a4a"/>
<rect x="416.10" y="191.07" width="2.00" height="4.5" rx="0.4" fill="#a4a452"/>
<rect x="418.20" y="191.07" width="2.20" height="4.5" rx="0.4" fill="#a4a452"/>
<rect x="420.50" y="191.07" width="2.00" height="4.5" rx="0.4" fill="#8a8a9a"/>
<rect x="422.70" y="191.07" width="1.80" height="4.5" rx="0.4" fill="#5aa452"/>
<rect x="424.60" y="191.07" width="2.00" height="4.5" rx="0.4" fill="#40b0d8"/>
<rect x="437.00" y="191.07" width="1.80" height="4.5" rx="0.4" fill="#9a72c4"/>
<rect x="438.90" y="191.07" width="1.80" height="4.5" rx="0.4" fill="#a4a452"/>
<rect x="440.90" y="191.07" width="1.50" height="4.5" rx="0.4" fill="#c8aa78"/>
<rect x="448.60" y="191.07" width="1.20" height="4.5" rx="0.4" fill="#5aa452"/>
<rect x="458.00" y="191.07" width="2.00" height="4.5" rx="0.4" fill="#5aa452"/>
<rect x="460.10" y="191.07" width="0.70" height="4.5" rx="0.4" fill="#a4a452"/>
<rect x="469.40" y="191.07" width="1.80" height="4.5" rx="0.4" fill="#c8aa78"/>
<rect x="471.50" y="191.07" width="1.50" height="4.5" rx="0.4" fill="#a4a452"/>
<rect x="473.10" y="191.07" width="0.50" height="4.5" rx="0.4" fill="#40b0d8"/>
<rect x="473.90" y="190.07" width="56.70" height="6.5" rx="0.6" fill="url(#cg)"/>
<text x="502.25" y="195.32" font-family="'Liberation Sans', Arial, sans-serif" font-size="5.8" text-anchor="middle" fill="#463030" textLength="33.00" lengthAdjust="spacingAndGlyphs" stroke="#463030" stroke-width="0.05">Cation_efflux</text>
<rect x="530.60" y="191.32" width="1.40" height="4.00" fill="#4a7ad2"/>
<rect x="375.60" y="198.59" width="170.70" height="5.60" fill="#efefef"/>
<line x1="375.60" y1="201.39" x2="546.30" y2="201.39" stroke="#8c8c8c" stroke-width="1.1"/>
<rect x="375.80" y="199.14" width="1.00" height="4.5" rx="0.4" fill="#e8983c"/>
<rect x="383.30" y="199.14" width="1.50" height="4.5" rx="0.4" fill="#8a8a9a"/>
<rect x="384.90" y="199.14" width="1.50" height="4.5" rx="0.4" fill="#c8aa78"/>
<rect x="386.60" y="199.14" width="1.50" height="4.5" rx="0.4" fill="#e8983c"/>
<rect x="388.40" y="199.14" width="2.20" height="4.5" rx="0.4" fill="#a4a452"/>
<rect x="390.70" y="199.14" width="1.50" height="4.5" rx="0.4" fill="#9a72c4"/>
<rect x="392.40" y="199.14" width="2.20" height="4.5" rx="0.4" fill="#a4a452"/>
<rect x="394.90" y="199.14" width="1.80" height="4.5" rx="0.4" fill="#40b0d8"/>
<rect x="396.90" y="199.14" width="2.20" height="4.5" rx="0.4" fill="#e8983c"/>
<rect x="399.20" y="199.14" width="1.50" height="4.5" rx="0.4" fill="#8a8a9a"/>
<rect x="400.90" y="199.14" width="2.20" height="4.5" rx="0.4" fill="#5aa452"/>
<rect x="403.40" y="199.14" width="1.50" height="4.5" rx="0.4" fill="#e8983c"/>
<rect x="405.00" y="199.14" width="1.20" height="4.5" rx="0.4" fill="#40b0d8"/>
<rect x="406.50" y="199.14" width="2.20" height="4.5" rx="0.4" fill="#3aa9a2"/>
<rect x="409.00" y="199.14" width="1.00" height="4.5" rx="0.4" fill="#4a7ad2"/>
<rect x="411.70" y="199.14" width="1.20" height="4.5" rx="0.4" fill="#d24a4a"/>
<rect x="413.00" y="199.14" width="1.80" height="4.5" rx="0.4" fill="#d24a4a"/>
<rect x="415.10" y="199.14" width="1.80" height="4.5" rx="0.4" fill="#3aa9a2"/>
<rect x="417.20" y="199.14" width="2.00" height="4.5" rx="0.4" fill="#a47a52"/>
<rect x="419.40" y="199.14" width="1.20" height="4.5" rx="0.4" fill="#d8c44c"/>
<rect x="420.80" y="199.14" width="1.50" height="4.5" rx="0.4" fill="#5aa452"/>
<rect x="422.40" y="199.14" width="2.20" height="4.5" rx="0.4" fill="#e8983c"/>
<rect x="424.70" y="199.14" width="2.10" height="4.5" rx="0.4" fill="#a4a452"/>
<rect x="437.00" y="199.14" width="2.00" height="4.5" rx="0.4" fill="#9a72c4"/>
<rect x="439.20" y="199.14" width="1.80" height="4.5" rx="0.4" fill="#5aa452"/>
<rect x="441.10" y="199.14" width="1.90" height="4.5" rx="0.4" fill="#a47a52"/>
<rect x="448.60" y="199.14" width="1.50" height="4.5" rx="0.4" fill="#9a72c4"/>
<rect x="458.00" y="199.14" width="1.20" height="4.5" rx="0.4" fill="#5aa452"/>
<rect x="459.30" y="199.14" width="0.70" height="4.5" rx="0.4" fill="#8a8a9a"/>
<rect x="469.40" y="199.14" width="1.50" height="4.5" rx="0.4" fill="#a4a452"/>
<rect x="471.20" y="199.14" width="1.50" height="4.5" rx="0.4" fill="#c8aa78"/>
<rect x="472.80" y="199.14" width="0.80" height="4.5" rx="0.4" fill="#8a8a9a"/>
<rect x="473.90" y="198.14" width="56.70" height="6.5" rx="0.6" fill="url(#cg)"/>
<text x="502.25" y="203.39" font-family="'Liberation Sans', Arial, sans-serif" font-size="5.8" text-anchor="middle" fill="#463030" textLength="33.00" lengthAdjust="spacingAndGlyphs" stroke="#463030" stroke-width="0.05">Cation_efflux</text>
<rect x="530.60" y="199.39" width="1.40" height="4.00" fill="#3aa9a2"/>
<rect x="375.60" y="206.67" width="170.70" height="5.60" fill="#efefef"/>
<line x1="375.60" y1="209.47" x2="546.30" y2="209.47" stroke="#8c8c8c" stroke-width="1.1"/>
<rect x="375.80" y="207.22" width="1.80" height="4.5" rx="0.4" fill="#e8983c"/>
<rect x="377.90" y="207.22" width="2.00" height="4.5" rx="0.4" fill="#9a72c4"/>
<rect x="380.20" y="207.22" width="1.80" height="4.5" rx="0.4" fill="#4a7ad2"/>
<rect x="382.30" y="207.22" width="1.20" height="4.5" rx="0.4" fill="#4a7ad2"/>
<rect x="383.70" y="207.22" width="1.20" height="4.5" rx="0.4" fill="#8a8a9a"/>
<rect x="385.10" y="207.22" width="2.20" height="4.5" rx="0.4" fill="#3aa9a2"/>
<rect x="387.40" y="207.22" width="1.50" height="4.5" rx="0.4" fill="#4a7ad2"/>
<rect x="389.20" y="207.22" width="0.80" height="4.5" rx="0.4" fill="#4a7ad2"/>
<rect x="391.50" y="207.22" width="2.20" height="4.5" rx="0.4" fill="#4a7ad2"/>
<rect x="393.80" y="207.22" width="1.20" height="4.5" rx="0.4" fill="#4a7ad2"/>
<rect x="395.30" y="207.22" width="1.50" height="4.5" rx="0.4" fill="#9a72c4"/>
<rect x="397.10" y="207.22" width="2.00" height="4.5" rx="0.4" fill="#d8c44c"/>
<rect x="399.30" y="207.22" width="2.20" height="4.5" rx="0.4" fill="#a4a452"/>
<rect x="401.80" y="207.22" width="2.20" height="4.5" rx="0.4" fill="#d8c44c"/>
<rect x="404.10" y="207.22" width="1.80" height="4.5" rx="0.4" fill="#40b0d8"/>
<rect x="406.20" y="207.22" width="2.20" height="4.5" rx="0.4" fill="#c8aa78"/>
<rect x="408.70" y="207.22" width="1.20" height="4.5" rx="0.4" fill="#5aa452"/>
<rect x="410.00" y="207.22" width="2.20" height="4.5" rx="0.4" fill="#3aa9a2"/>
<rect x="412.30" y="207.22" width="2.00" height="4.5" rx="0.4" fill="#9a72c4"/>
<rect x="414.60" y="207.22" width="1.20" height="4.5" rx="0.4" fill="#a4a452"/>
<rect x="416.10" y="207.22" width="1.50" height="4.5" rx="0.4" fill="#3aa9a2"/>
<rect x="417.80" y="207.22" width="2.20" height="4.5" rx="0.4" fill="#5aa452"/>
<rect x="420.20" y="207.22" width="1.50" height="4.5" rx="0.4" fill="#3aa9a2"/>
<rect x="422.00" y="207.22" width="1.80" height="4.5" rx="0.4" fill="#5aa452"/>
<rect x="423.90" y="207.22" width="2.00" height="4.5" rx="0.4" fill="#d24a4a"/>
<rect x="426.20" y="207.22" width="0.60" height="4.5" rx="0.4" fill="#40b0d8"/>
<rect x="437.00" y="207.22" width="1.80" height="4.5" rx="0.4" fill="#a47a52"/>
<rect x="438.90" y="207.22" width="1.20" height="4.5" rx="0.4" fill="#a47a52"/>
<rect x="440.30" y="207.22" width="1.20" height="4.5" rx="0.4" fill="#a4a452"/>
<rect x="441.80" y="207.22" width="2.20" height="4.5" rx="0.4" fill="#8a8a9a"/>
<rect x="444.30" y="207.22" width="2.00" height="4.5" rx="0.4" fill="#8a8a9a"/>
<rect x="446.40" y="207.22" width="1.80" height="4.5" rx="0.4" fill="#a4a452"/>
<rect x="448.40" y="207.22" width="1.10" height="4.5" rx="0.4" fill="#5aa452"/>
<rect x="455.20" y="207.22" width="1.50" height="4.5" rx="0.4" fill="#d24a4a"/>
<rect x="457.00" y="207.22" width="1.50" height="4.5" rx="0.4" fill="#a4a452"/>
<rect x="458.80" y="207.22" width="1.50" height="4.5" rx="0.4" fill="#d8c44c"/>
<rect x="469.40" y="207.22" width="2.00" height="4.5" rx="0.4" fill="#4a7ad2"/>
<rect x="471.60" y="207.22" width="1.20" height="4.5" rx="0.4" fill="#8a8a9a"/>
<rect x="473.10" y="207.22" width="0.50" height="4.5" rx="0.4" fill="#c8aa78"/>
<rect x="473.90" y="206.22" width="56.70" height="6.5" rx="0.6" fill="url(#cg)"/>
<text x="502.25" y="211.47" font-family="'Liberation Sans', Arial, sans-serif" font-size="5.8" text-anchor="middle" fill="#463030" textLength="33.00" lengthAdjust="spacingAndGlyphs" stroke="#463030" stroke-width="0.05">Cation_efflux</text>
<rect x="530.60" y="207.47" width="1.40" height="4.00" fill="#7a4ab0"/>
<rect x="375.60" y="214.75" width="170.70" height="5.60" fill="#efefef"/>
<line x1="375.60" y1="217.55" x2="546.30" y2="217.55" stroke="#8c8c8c" stroke-width="1.1"/>
<rect x="380.50" y="215.30" width="2.20" height="4.5" rx="0.4" fill="#a47a52"/>
<rect x="382.80" y="215.30" width="1.20" height="4.5" rx="0.4" fill="#a47a52"/>
<rect x="384.30" y="215.30" width="1.80" height="4.5" rx="0.4" fill="#a47a52"/>
<rect x="386.40" y="215.30" width="1.80" height="4.5" rx="0.4" fill="#3aa9a2"/>
<rect x="388.40" y="215.30" width="2.00" height="4.5" rx="0.4" fill="#4a7ad2"/>
<rect x="390.60" y="215.30" width="1.80" height="4.5" rx="0.4" fill="#c8aa78"/>
<rect x="392.50" y="215.30" width="2.20" height="4.5" rx="0.4" fill="#e8983c"/>
<rect x="395.00" y="215.30" width="1.80" height="4.5" rx="0.4" fill="#c8aa78"/>
<rect x="397.00" y="215.30" width="2.20" height="4.5" rx="0.4" fill="#8a8a9a"/>
<rect x="399.50" y="215.30" width="2.00" height="4.5" rx="0.4" fill="#8a8a9a"/>
<rect x="401.70" y="215.30" width="2.00" height="4.5" rx="0.4" fill="#8a8a9a"/>
<rect x="403.90" y="215.30" width="1.20" height="4.5" rx="0.4" fill="#e8983c"/>
<rect x="405.40" y="215.30" width="1.20" height="4.5" rx="0.4" fill="#3aa9a2"/>
<rect x="406.80" y="215.30" width="1.50" height="4.5" rx="0.4" fill="#40b0d8"/>
<rect x="408.40" y="215.30" width="1.20" height="4.5" rx="0.4" fill="#5aa452"/>
<rect x="409.80" y="215.30" width="1.20" height="4.5" rx="0.4" fill="#d8c44c"/>
<rect x="411.10" y="215.30" width="2.20" height="4.5" rx="0.4" fill="#c8aa78"/>
<rect x="417.40" y="215.30" width="2.00" height="4.5" rx="0.4" fill="#e8983c"/>
<rect x="419.60" y="215.30" width="2.20" height="4.5" rx="0.4" fill="#5aa452"/>
<rect x="422.10" y="215.30" width="1.80" height="4.5" rx="0.4" fill="#e8983c"/>
<rect x="424.20" y="215.30" width="1.80" height="4.5" rx="0.4" fill="#9a72c4"/>
<rect x="426.30" y="215.30" width="0.50" height="4.5" rx="0.4" fill="#40b0d8"/>
<rect x="437.00" y="215.30" width="2.00" height="4.5" rx="0.4" fill="#9a72c4"/>
<rect x="439.20" y="215.30" width="1.80" height="4.5" rx="0.4" fill="#a4a452"/>
<rect x="441.30" y="215.30" width="1.80" height="4.5" rx="0.4" fill="#40b0d8"/>
<rect x="443.20" y="215.30" width="1.50" height="4.5" rx="0.4" fill="#d24a4a"/>
<rect x="444.90" y="215.30" width="1.20" height="4.5" rx="0.4" fill="#d24a4a"/>
<rect x="446.30" y="215.30" width="2.00" height="4.5" rx="0.4" fill="#5aa452"/>
<rect x="448.60" y="215.30" width="0.90" height="4.5" rx="0.4" fill="#d24a4a"/>
<rect x="455.20" y="215.30" width="1.80" height="4.5" rx="0.4" fill="#4a7ad2"/>
<rect x="457.10" y="215.30" width="1.20" height="4.5" rx="0.4" fill="#a47a52"/>
<rect x="458.50" y="215.30" width="1.20" height="4.5" rx="0.4" fill="#d24a4a"/>
<rect x="459.80" y="215.30" width="1.00" height="4.5" rx="0.4" fill="#e8983c"/>
<rect x="469.40" y="215.30" width="1.80" height="4.5" rx="0.4" fill="#d24a4a"/>
<rect x="471.40" y="215.30" width="2.00" height="4.5" rx="0.4" fill="#c8aa78"/>
<rect x="473.90" y="214.30" width="56.70" height="6.5" rx="0.6" fill="url(#cg)"/>
<text x="502.25" y="219.55" font-family="'Liberation Sans', Arial, sans-serif" font-size="5.8" text-anchor="middle" fill="#463030" textLength="33.00" lengthAdjust="spacingAndGlyphs" stroke="#463030" stroke-width="0.05">Cation_efflux</text>
<rect x="530.60" y="215.55" width="1.40" height="4.00" fill="#4a7ad2"/>
<rect x="375.60" y="222.83" width="170.70" height="5.60" fill="#efefef"/>
<line x1="375.60" y1="225.63" x2="546.30" y2="225.63" stroke="#8c8c8c" stroke-width="1.1"/>
<rect x="375.80" y="223.38" width="0.80" height="4.5" rx="0.4" fill="#d8c44c"/>
<rect x="390.00" y="223.38" width="2.00" height="4.5" rx="0.4" fill="#40b0d8"/>
<rect x="392.10" y="223.38" width="1.20" height="4.5" rx="0.4" fill="#9a72c4"/>
<rect x="393.40" y="223.38" width="2.20" height="4.5" rx="0.4" fill="#4a7ad2"/>
<rect x="400.40" y="223.38" width="1.80" height="4.5" rx="0.4" fill="#3aa9a2"/>
<rect x="402.40" y="223.38" width="0.80" height="4.5" rx="0.4" fill="#5aa452"/>
<rect x="407.90" y="223.38" width="1.00" height="4.5" rx="0.4" fill="#d24a4a"/>
<rect x="410.70" y="223.38" width="2.00" height="4.5" rx="0.4" fill="#e8983c"/>
<rect x="413.00" y="223.38" width="1.20" height="4.5" rx="0.4" fill="#5aa452"/>
<rect x="414.30" y="223.38" width="1.20" height="4.5" rx="0.4" fill="#4a7ad2"/>
<rect x="415.80" y="223.38" width="2.00" height="4.5" rx="0.4" fill="#d8c44c"/>
<rect x="418.00" y="223.38" width="1.80" height="4.5" rx="0.4" fill="#d24a4a"/>
<rect x="420.00" y="223.38" width="1.80" height="4.5" rx="0.4" fill="#3aa9a2"/>
<rect x="422.00" y="223.38" width="1.80" height="4.5" rx="0.4" fill="#3aa9a2"/>
<rect x="423.90" y="223.38" width="1.80" height="4.5" rx="0.4" fill="#e8983c"/>
<rect x="426.00" y="223.38" width="0.80" height="4.5" rx="0.4" fill="#9a72c4"/>
<rect x="437.00" y="223.38" width="2.00" height="4.5" rx="0.4" fill="#5aa452"/>
<rect x="439.10" y="223.38" width="2.20" height="4.5" rx="0.4" fill="#8a8a9a"/>
<rect x="441.50" y="223.38" width="1.50" height="4.5" rx="0.4" fill="#4a7ad2"/>
<rect x="443.10" y="223.38" width="1.70" height="4.5" rx="0.4" fill="#3aa9a2"/>
<rect x="448.60" y="223.38" width="1.50" height="4.5" rx="0.4" fill="#3aa9a2"/>
<rect x="458.00" y="223.38" width="1.20" height="4.5" rx="0.4" fill="#d24a4a"/>
<rect x="459.30" y="223.38" width="1.50" height="4.5" rx="0.4" fill="#8a8a9a"/>
<rect x="469.40" y="223.38" width="2.20" height="4.5" rx="0.4" fill="#c8aa78"/>
<rect x="471.70" y="223.38" width="1.90" height="4.5" rx="0.4" fill="#d24a4a"/>
<rect x="473.90" y="222.38" width="56.70" height="6.5" rx="0.6" fill="url(#cg)"/>
<text x="502.25" y="227.63" font-family="'Liberation Sans', Arial, sans-serif" font-size="5.8" text-anchor="middle" fill="#463030" textLength="33.00" lengthAdjust="spacingAndGlyphs" stroke="#463030" stroke-width="0.05">Cation_efflux</text>
<rect x="530.60" y="223.63" width="1.40" height="4.00" fill="#3aa9a2"/>
<rect x="375.60" y="230.91" width="170.70" height="5.60" fill="#efefef"/>
<line x1="375.60" y1="233.71" x2="546.30" y2="233.71" stroke="#8c8c8c" stroke-width="1.1"/>
<rect x="375.80" y="231.46" width="0.80" height="4.5" rx="0.4" fill="#a4a452"/>
<rect x="385.20" y="231.46" width="1.00" height="4.5" rx="0.4" fill="#a4a452"/>
<rect x="388.00" y="231.46" width="1.80" height="4.5" rx="0.4" fill="#3aa9a2"/>
<rect x="393.70" y="231.46" width="1.50" height="4.5" rx="0.4" fill="#3aa9a2"/>
<rect x="395.30" y="231.46" width="1.50" height="4.5" rx="0.4" fill="#3aa9a2"/>
<rect x="396.90" y="231.46" width="1.20" height="4.5" rx="0.4" fill="#8a8a9a"/>
<rect x="398.20" y="231.46" width="1.50" height="4.5" rx="0.4" fill="#4a7ad2"/>
<rect x="399.80" y="231.46" width="1.50" height="4.5" rx="0.4" fill="#4a7ad2"/>
<rect x="401.50" y="231.46" width="1.80" height="4.5" rx="0.4" fill="#8a8a9a"/>
<rect x="403.60" y="231.46" width="2.20" height="4.5" rx="0.4" fill="#4a7ad2"/>
<rect x="406.10" y="231.46" width="2.00" height="4.5" rx="0.4" fill="#8a8a9a"/>
<rect x="408.40" y="231.46" width="1.20" height="4.5" rx="0.4" fill="#4a7ad2"/>
<rect x="409.70" y="231.46" width="1.80" height="4.5" rx="0.4" fill="#40b0d8"/>
<rect x="411.80" y="231.46" width="1.20" height="4.5" rx="0.4" fill="#9a72c4"/>
<rect x="413.20" y="231.46" width="1.20" height="4.5" rx="0.4" fill="#9a72c4"/>
<rect x="414.50" y="231.46" width="1.50" height="4.5" rx="0.4" fill="#e8983c"/>
<rect x="416.10" y="231.46" width="2.00" height="4.5" rx="0.4" fill="#8a8a9a"/>
<rect x="418.40" y="231.46" width="2.20" height="4.5" rx="0.4" fill="#4a7ad2"/>
<rect x="420.70" y="231.46" width="1.20" height="4.5" rx="0.4" fill="#a4a452"/>
<rect x="422.00" y="231.46" width="1.50" height="4.5" rx="0.4" fill="#d8c44c"/>
<rect x="423.60" y="231.46" width="1.80" height="4.5" rx="0.4" fill="#5aa452"/>
<rect x="425.50" y="231.46" width="1.20" height="4.5" rx="0.4" fill="#a47a52"/>
<rect x="437.00" y="231.46" width="2.20" height="4.5" rx="0.4" fill="#c8aa78"/>
<rect x="439.50" y="231.46" width="2.20" height="4.5" rx="0.4" fill="#40b0d8"/>
<rect x="442.00" y="231.46" width="1.80" height="4.5" rx="0.4" fill="#c8aa78"/>
<rect x="444.10" y="231.46" width="0.70" height="4.5" rx="0.4" fill="#e8983c"/>
<rect x="448.60" y="231.46" width="1.60" height="4.5" rx="0.4" fill="#40b0d8"/>
<rect x="458.00" y="231.46" width="1.50" height="4.5" rx="0.4" fill="#4a7ad2"/>
<rect x="459.60" y="231.46" width="1.20" height="4.5" rx="0.4" fill="#8a8a9a"/>
<rect x="469.40" y="231.46" width="1.20" height="4.5" rx="0.4" fill="#d24a4a"/>
<rect x="470.90" y="231.46" width="2.00" height="4.5" rx="0.4" fill="#8a8a9a"/>
<rect x="473.10" y="231.46" width="0.50" height="4.5" rx="0.4" fill="#e8983c"/>
<rect x="473.90" y="230.46" width="56.70" height="6.5" rx="0.6" fill="url(#cg)"/>
<text x="502.25" y="235.71" font-family="'Liberation Sans', Arial, sans-serif" font-size="5.8" text-anchor="middle" fill="#463030" textLength="33.00" lengthAdjust="spacingAndGlyphs" stroke="#463030" stroke-width="0.05">Cation_efflux</text>
<rect x="530.60" y="231.71" width="1.40" height="4.00" fill="#40b0d8"/>
<defs><linearGradient id="cg" x1="0" y1="0" x2="0" y2="1"><stop offset="0" stop-color="#c27a9c"/><stop offset="0.3" stop-color="#c78f9a"/><stop offset="0.5" stop-color="#caa592"/><stop offset="0.7" stop-color="#c78f9a"/><stop offset="1" stop-color="#c27a9c"/></linearGradient></defs>
<text x="158.30" y="237.50" font-family="'Liberation Sans', Arial, sans-serif" font-size="10.4" font-weight="bold" fill="#000" textLength="6.80" lengthAdjust="spacingAndGlyphs" stroke="#000" stroke-width="0.45">C</text>
<line x1="156.30" y1="240.90" x2="175.80" y2="240.90" stroke="#555" stroke-width="0.7"/>
<line x1="156.60" y1="240.60" x2="156.60" y2="242.40" stroke="#555" stroke-width="0.7"/>
<line x1="175.50" y1="240.60" x2="175.50" y2="242.40" stroke="#555" stroke-width="0.7"/>
<text x="156.30" y="249.60" font-family="'DejaVu Sans', Verdana, sans-serif" font-size="7.0" fill="#333" textLength="18.30" lengthAdjust="spacingAndGlyphs">3.294</text>
<rect x="272.80" y="240.90" width="9.40" height="10.90" fill="#1e1a7c"/>
<text x="287.30" y="246.70" font-family="'Liberation Sans', Arial, sans-serif" font-size="6.5" font-weight="bold" fill="#111" textLength="53.70" lengthAdjust="spacingAndGlyphs" stroke="#111" stroke-width="0.15">Speciation events</text>
<rect x="370.00" y="240.90" width="10.00" height="10.90" fill="#ff0000"/>
<text x="383.30" y="246.70" font-family="'Liberation Sans', Arial, sans-serif" font-size="6.5" font-weight="bold" fill="#111" textLength="57.70" lengthAdjust="spacingAndGlyphs" stroke="#111" stroke-width="0.15">Duplication events</text>
<circle cx="474.8" cy="246.3" r="3.9" fill="url(#gg)"/>
<text x="480.50" y="246.70" font-family="'Liberation Sans', Arial, sans-serif" font-size="6.5" font-weight="bold" fill="#111" textLength="50.50" lengthAdjust="spacingAndGlyphs" stroke="#111" stroke-width="0.15">Target sequence</text>
</svg></body></html>
